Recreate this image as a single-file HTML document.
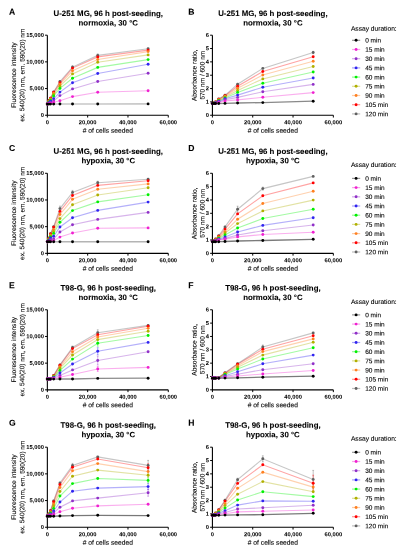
<!DOCTYPE html>
<html><head><meta charset="utf-8"><style>
html,body{margin:0;padding:0;background:#fff;width:407px;height:550px;overflow:hidden}
svg{display:block;will-change:transform}
text{font-family:"Liberation Sans", sans-serif;fill:#000;text-rendering:geometricPrecision}
.b{stroke:#000;stroke-width:0.08px}
.r{stroke:#000;stroke-width:0.1px}
</style></head><body>
<svg width="407" height="550" viewBox="0 0 407 550">
<rect width="407" height="550" fill="#fff"/>
<text class="b" transform="translate(9.00 14.80) rotate(0.05)" font-size="8.6" font-weight="bold" text-anchor="start" >A</text>
<text class="b" transform="translate(108.27 16.10) rotate(0.05)" font-size="7.85" font-weight="bold" text-anchor="middle" >U-251 MG, 96 h post-seeding,</text>
<text class="b" transform="translate(108.27 25.50) rotate(0.05)" font-size="7.85" font-weight="bold" text-anchor="middle" >normoxia, 30 °C</text>
<path d="M47.35 35.19V115.24H168.28" fill="none" stroke="#000" stroke-width="1.1"/>
<text class="b" transform="translate(43.95 117.04) rotate(0.05)" font-size="5.75" font-weight="bold" text-anchor="end" style="stroke-width:0.02px">0</text>
<text class="b" transform="translate(43.95 90.36) rotate(0.05)" font-size="5.75" font-weight="bold" text-anchor="end" style="stroke-width:0.02px">5,000</text>
<text class="b" transform="translate(43.95 63.67) rotate(0.05)" font-size="5.75" font-weight="bold" text-anchor="end" style="stroke-width:0.02px">10,000</text>
<text class="b" transform="translate(43.95 36.99) rotate(0.05)" font-size="5.75" font-weight="bold" text-anchor="end" style="stroke-width:0.02px">15,000</text>
<text class="b" transform="translate(47.35 124.24) rotate(0.05)" font-size="5.75" font-weight="bold" text-anchor="middle" style="stroke-width:0.02px">0</text>
<text class="b" transform="translate(87.66 124.24) rotate(0.05)" font-size="5.75" font-weight="bold" text-anchor="middle" style="stroke-width:0.02px">20,000</text>
<text class="b" transform="translate(127.97 124.24) rotate(0.05)" font-size="5.75" font-weight="bold" text-anchor="middle" style="stroke-width:0.02px">40,000</text>
<text class="b" transform="translate(168.28 124.24) rotate(0.05)" font-size="5.75" font-weight="bold" text-anchor="middle" style="stroke-width:0.02px">60,000</text>
<path d="M45.05 115.24H47.35 M45.05 88.56H47.35 M45.05 61.87H47.35 M45.05 35.19H47.35 M47.35 115.24V117.54 M87.66 115.24V117.54 M127.97 115.24V117.54 M168.28 115.24V117.54" stroke="#000" stroke-width="1"/>
<text class="r" transform="translate(107.81 132.74) rotate(0.05)" font-size="6.7" font-weight="normal" text-anchor="middle" ># of cells seeded</text>
<text class="r" transform="translate(16.00 75.22) rotate(-89.9)" font-size="6.6" text-anchor="middle">Fluorescence intensity</text>
<text class="r" transform="translate(24.40 75.22) rotate(-89.9)" font-size="6.5" text-anchor="middle">ex. 540(20) nm, em. 590(20) nm</text>
<polyline points="47.35,104.10 48.92,104.10 50.50,104.10 53.65,104.10 59.95,104.00 72.54,104.00 97.74,104.00 148.12,103.90" fill="none" stroke="#c8c8c8" stroke-width="1.7"/>
<polyline points="47.35,104.00 48.92,103.60 50.50,103.30 53.65,102.30 59.95,100.70 72.54,96.60 97.74,92.30 148.12,90.80" fill="none" stroke="#f020d0" stroke-width="1.1" stroke-opacity="0.36"/>
<polyline points="47.35,104.00 48.92,103.20 50.50,102.50 53.65,101.00 59.95,95.60 72.54,88.90 97.74,81.50 148.12,73.20" fill="none" stroke="#9030c8" stroke-width="1.1" stroke-opacity="0.36"/>
<polyline points="47.35,104.00 48.92,102.70 50.50,101.30 53.65,98.80 59.95,92.10 72.54,82.80 97.74,73.50 148.12,64.30" fill="none" stroke="#3024f0" stroke-width="1.1" stroke-opacity="0.36"/>
<polyline points="47.35,104.00 48.92,102.20 50.50,100.50 53.65,96.00 59.95,88.40 72.54,78.20 97.74,67.40 148.12,59.60" fill="none" stroke="#00f000" stroke-width="1.1" stroke-opacity="0.36"/>
<polyline points="47.35,104.00 48.92,101.70 50.50,99.50 53.65,94.40 59.95,86.20 72.54,73.90 97.74,62.20 148.12,54.90" fill="none" stroke="#b0b000" stroke-width="1.1" stroke-opacity="0.36"/>
<polyline points="47.35,104.00 48.92,101.20 50.50,99.00 53.65,93.30 59.95,84.30 72.54,70.80 97.74,59.50 148.12,51.60" fill="none" stroke="#ff8020" stroke-width="1.1" stroke-opacity="0.36"/>
<polyline points="47.35,104.00 48.92,100.80 50.50,98.30 53.65,92.30 59.95,82.80 72.54,68.10 97.74,56.90 148.12,50.10" fill="none" stroke="#ff0000" stroke-width="1.1" stroke-opacity="0.36"/>
<polyline points="47.35,104.00 48.92,100.50 50.50,98.20 53.65,92.00 59.95,81.50 72.54,67.10 97.74,55.40 148.12,48.80" fill="none" stroke="#606060" stroke-width="1.1" stroke-opacity="0.36"/>
<path d="M72.54 65.60V68.60M71.64 65.60H73.44M71.64 68.60H73.44" stroke="#606060" stroke-width="0.7" stroke-opacity="0.55" fill="none"/>
<path d="M97.74 53.90V56.90M96.84 53.90H98.64M96.84 56.90H98.64" stroke="#606060" stroke-width="0.7" stroke-opacity="0.55" fill="none"/>
<circle cx="47.35" cy="104.00" r="1.45" fill="#606060"/>
<circle cx="48.92" cy="100.50" r="1.45" fill="#606060"/>
<circle cx="50.50" cy="98.20" r="1.45" fill="#606060"/>
<circle cx="53.65" cy="92.00" r="1.45" fill="#606060"/>
<circle cx="59.95" cy="81.50" r="1.45" fill="#606060"/>
<circle cx="72.54" cy="67.10" r="1.45" fill="#606060"/>
<circle cx="97.74" cy="55.40" r="1.45" fill="#606060"/>
<circle cx="148.12" cy="48.80" r="1.45" fill="#606060"/>
<circle cx="47.35" cy="104.00" r="1.45" fill="#ff0000"/>
<circle cx="48.92" cy="100.80" r="1.45" fill="#ff0000"/>
<circle cx="50.50" cy="98.30" r="1.45" fill="#ff0000"/>
<circle cx="53.65" cy="92.30" r="1.45" fill="#ff0000"/>
<circle cx="59.95" cy="82.80" r="1.45" fill="#ff0000"/>
<circle cx="72.54" cy="68.10" r="1.45" fill="#ff0000"/>
<circle cx="97.74" cy="56.90" r="1.45" fill="#ff0000"/>
<circle cx="148.12" cy="50.10" r="1.45" fill="#ff0000"/>
<circle cx="47.35" cy="104.00" r="1.45" fill="#ff8020"/>
<circle cx="48.92" cy="101.20" r="1.45" fill="#ff8020"/>
<circle cx="50.50" cy="99.00" r="1.45" fill="#ff8020"/>
<circle cx="53.65" cy="93.30" r="1.45" fill="#ff8020"/>
<circle cx="59.95" cy="84.30" r="1.45" fill="#ff8020"/>
<circle cx="72.54" cy="70.80" r="1.45" fill="#ff8020"/>
<circle cx="97.74" cy="59.50" r="1.45" fill="#ff8020"/>
<circle cx="148.12" cy="51.60" r="1.45" fill="#ff8020"/>
<circle cx="47.35" cy="104.00" r="1.45" fill="#b0b000"/>
<circle cx="48.92" cy="101.70" r="1.45" fill="#b0b000"/>
<circle cx="50.50" cy="99.50" r="1.45" fill="#b0b000"/>
<circle cx="53.65" cy="94.40" r="1.45" fill="#b0b000"/>
<circle cx="59.95" cy="86.20" r="1.45" fill="#b0b000"/>
<circle cx="72.54" cy="73.90" r="1.45" fill="#b0b000"/>
<circle cx="97.74" cy="62.20" r="1.45" fill="#b0b000"/>
<circle cx="148.12" cy="54.90" r="1.45" fill="#b0b000"/>
<circle cx="47.35" cy="104.00" r="1.45" fill="#00f000"/>
<circle cx="48.92" cy="102.20" r="1.45" fill="#00f000"/>
<circle cx="50.50" cy="100.50" r="1.45" fill="#00f000"/>
<circle cx="53.65" cy="96.00" r="1.45" fill="#00f000"/>
<circle cx="59.95" cy="88.40" r="1.45" fill="#00f000"/>
<circle cx="72.54" cy="78.20" r="1.45" fill="#00f000"/>
<circle cx="97.74" cy="67.40" r="1.45" fill="#00f000"/>
<circle cx="148.12" cy="59.60" r="1.45" fill="#00f000"/>
<circle cx="47.35" cy="104.00" r="1.45" fill="#3024f0"/>
<circle cx="48.92" cy="102.70" r="1.45" fill="#3024f0"/>
<circle cx="50.50" cy="101.30" r="1.45" fill="#3024f0"/>
<circle cx="53.65" cy="98.80" r="1.45" fill="#3024f0"/>
<circle cx="59.95" cy="92.10" r="1.45" fill="#3024f0"/>
<circle cx="72.54" cy="82.80" r="1.45" fill="#3024f0"/>
<circle cx="97.74" cy="73.50" r="1.45" fill="#3024f0"/>
<circle cx="148.12" cy="64.30" r="1.45" fill="#3024f0"/>
<circle cx="47.35" cy="104.00" r="1.45" fill="#9030c8"/>
<circle cx="48.92" cy="103.20" r="1.45" fill="#9030c8"/>
<circle cx="50.50" cy="102.50" r="1.45" fill="#9030c8"/>
<circle cx="53.65" cy="101.00" r="1.45" fill="#9030c8"/>
<circle cx="59.95" cy="95.60" r="1.45" fill="#9030c8"/>
<circle cx="72.54" cy="88.90" r="1.45" fill="#9030c8"/>
<circle cx="97.74" cy="81.50" r="1.45" fill="#9030c8"/>
<circle cx="148.12" cy="73.20" r="1.45" fill="#9030c8"/>
<circle cx="47.35" cy="104.00" r="1.45" fill="#f020d0"/>
<circle cx="48.92" cy="103.60" r="1.45" fill="#f020d0"/>
<circle cx="50.50" cy="103.30" r="1.45" fill="#f020d0"/>
<circle cx="53.65" cy="102.30" r="1.45" fill="#f020d0"/>
<circle cx="59.95" cy="100.70" r="1.45" fill="#f020d0"/>
<circle cx="72.54" cy="96.60" r="1.45" fill="#f020d0"/>
<circle cx="97.74" cy="92.30" r="1.45" fill="#f020d0"/>
<circle cx="148.12" cy="90.80" r="1.45" fill="#f020d0"/>
<circle cx="47.35" cy="104.10" r="1.45" fill="#000000"/>
<circle cx="48.92" cy="104.10" r="1.45" fill="#000000"/>
<circle cx="50.50" cy="104.10" r="1.45" fill="#000000"/>
<circle cx="53.65" cy="104.10" r="1.45" fill="#000000"/>
<circle cx="59.95" cy="104.00" r="1.45" fill="#000000"/>
<circle cx="72.54" cy="104.00" r="1.45" fill="#000000"/>
<circle cx="97.74" cy="104.00" r="1.45" fill="#000000"/>
<circle cx="148.12" cy="103.90" r="1.45" fill="#000000"/>
<text class="b" transform="translate(188.30 14.80) rotate(0.05)" font-size="8.6" font-weight="bold" text-anchor="start" >B</text>
<text class="b" transform="translate(272.88 16.10) rotate(0.05)" font-size="7.85" font-weight="bold" text-anchor="middle" >U-251 MG, 96 h post-seeding,</text>
<text class="b" transform="translate(272.88 25.50) rotate(0.05)" font-size="7.85" font-weight="bold" text-anchor="middle" >normoxia, 30 °C</text>
<path d="M212.42 35.19V115.24H333.35" fill="none" stroke="#000" stroke-width="1.1"/>
<text class="b" transform="translate(209.02 117.04) rotate(0.05)" font-size="5.75" font-weight="bold" text-anchor="end" style="stroke-width:0.02px">0</text>
<text class="b" transform="translate(209.02 103.70) rotate(0.05)" font-size="5.75" font-weight="bold" text-anchor="end" style="stroke-width:0.02px">1</text>
<text class="b" transform="translate(209.02 90.36) rotate(0.05)" font-size="5.75" font-weight="bold" text-anchor="end" style="stroke-width:0.02px">2</text>
<text class="b" transform="translate(209.02 77.02) rotate(0.05)" font-size="5.75" font-weight="bold" text-anchor="end" style="stroke-width:0.02px">3</text>
<text class="b" transform="translate(209.02 63.67) rotate(0.05)" font-size="5.75" font-weight="bold" text-anchor="end" style="stroke-width:0.02px">4</text>
<text class="b" transform="translate(209.02 50.33) rotate(0.05)" font-size="5.75" font-weight="bold" text-anchor="end" style="stroke-width:0.02px">5</text>
<text class="b" transform="translate(209.02 36.99) rotate(0.05)" font-size="5.75" font-weight="bold" text-anchor="end" style="stroke-width:0.02px">6</text>
<text class="b" transform="translate(212.42 124.24) rotate(0.05)" font-size="5.75" font-weight="bold" text-anchor="middle" style="stroke-width:0.02px">0</text>
<text class="b" transform="translate(252.73 124.24) rotate(0.05)" font-size="5.75" font-weight="bold" text-anchor="middle" style="stroke-width:0.02px">20,000</text>
<text class="b" transform="translate(293.04 124.24) rotate(0.05)" font-size="5.75" font-weight="bold" text-anchor="middle" style="stroke-width:0.02px">40,000</text>
<text class="b" transform="translate(333.35 124.24) rotate(0.05)" font-size="5.75" font-weight="bold" text-anchor="middle" style="stroke-width:0.02px">60,000</text>
<path d="M210.12 115.24H212.42 M210.12 101.90H212.42 M210.12 88.56H212.42 M210.12 75.22H212.42 M210.12 61.87H212.42 M210.12 48.53H212.42 M210.12 35.19H212.42 M212.42 115.24V117.54 M252.73 115.24V117.54 M293.04 115.24V117.54 M333.35 115.24V117.54" stroke="#000" stroke-width="1"/>
<text class="r" transform="translate(272.88 132.74) rotate(0.05)" font-size="6.7" font-weight="normal" text-anchor="middle" ># of cells seeded</text>
<text class="r" transform="translate(196.60 75.22) rotate(-89.9)" font-size="6.6" text-anchor="middle">Absorbance ratio,</text>
<text class="r" transform="translate(204.60 75.22) rotate(-89.9)" font-size="6.5" text-anchor="middle">570 nm / 600 nm</text>
<polyline points="212.42,103.50 213.99,103.50 215.57,103.50 218.72,103.50 225.02,103.40 237.61,103.00 262.81,102.60 313.19,101.20" fill="none" stroke="#8a8a8a" stroke-width="1.3"/>
<polyline points="212.42,103.40 213.99,103.40 215.57,103.20 218.72,102.40 225.02,100.90 237.61,99.90 262.81,97.30 313.19,92.60" fill="none" stroke="#f020d0" stroke-width="1.1" stroke-opacity="0.36"/>
<polyline points="212.42,103.40 213.99,103.40 215.57,103.00 218.72,101.80 225.02,99.80 237.61,97.40 262.81,91.70 313.19,84.40" fill="none" stroke="#9030c8" stroke-width="1.1" stroke-opacity="0.36"/>
<polyline points="212.42,103.40 213.99,103.30 215.57,102.80 218.72,101.20 225.02,98.80 237.61,95.10 262.81,87.30 313.19,78.00" fill="none" stroke="#3024f0" stroke-width="1.1" stroke-opacity="0.36"/>
<polyline points="212.42,103.40 213.99,103.20 215.57,102.60 218.72,100.70 225.02,97.90 237.61,92.40 262.81,83.20 313.19,72.00" fill="none" stroke="#00f000" stroke-width="1.1" stroke-opacity="0.36"/>
<polyline points="212.42,103.40 213.99,103.10 215.57,102.40 218.72,100.10 225.02,96.90 237.61,90.40 262.81,78.90 313.19,66.50" fill="none" stroke="#b0b000" stroke-width="1.1" stroke-opacity="0.36"/>
<polyline points="212.42,103.40 213.99,103.00 215.57,102.20 218.72,99.70 225.02,96.30 237.61,88.20 262.81,75.00 313.19,61.30" fill="none" stroke="#ff8020" stroke-width="1.1" stroke-opacity="0.36"/>
<polyline points="212.42,103.40 213.99,102.90 215.57,102.00 218.72,99.20 225.02,95.60 237.61,86.30 262.81,71.50 313.19,56.80" fill="none" stroke="#ff0000" stroke-width="1.1" stroke-opacity="0.36"/>
<polyline points="212.42,103.40 213.99,102.80 215.57,101.90 218.72,99.00 225.02,95.30 237.61,84.20 262.81,68.40 313.19,52.50" fill="none" stroke="#606060" stroke-width="1.1" stroke-opacity="0.36"/>
<path d="M313.19 51.30V53.70M312.30 51.30H314.09M312.30 53.70H314.09" stroke="#606060" stroke-width="0.7" stroke-opacity="0.55" fill="none"/>
<circle cx="212.42" cy="103.40" r="1.45" fill="#606060"/>
<circle cx="213.99" cy="102.80" r="1.45" fill="#606060"/>
<circle cx="215.57" cy="101.90" r="1.45" fill="#606060"/>
<circle cx="218.72" cy="99.00" r="1.45" fill="#606060"/>
<circle cx="225.02" cy="95.30" r="1.45" fill="#606060"/>
<circle cx="237.61" cy="84.20" r="1.45" fill="#606060"/>
<circle cx="262.81" cy="68.40" r="1.45" fill="#606060"/>
<circle cx="313.19" cy="52.50" r="1.45" fill="#606060"/>
<circle cx="212.42" cy="103.40" r="1.45" fill="#ff0000"/>
<circle cx="213.99" cy="102.90" r="1.45" fill="#ff0000"/>
<circle cx="215.57" cy="102.00" r="1.45" fill="#ff0000"/>
<circle cx="218.72" cy="99.20" r="1.45" fill="#ff0000"/>
<circle cx="225.02" cy="95.60" r="1.45" fill="#ff0000"/>
<circle cx="237.61" cy="86.30" r="1.45" fill="#ff0000"/>
<circle cx="262.81" cy="71.50" r="1.45" fill="#ff0000"/>
<circle cx="313.19" cy="56.80" r="1.45" fill="#ff0000"/>
<circle cx="212.42" cy="103.40" r="1.45" fill="#ff8020"/>
<circle cx="213.99" cy="103.00" r="1.45" fill="#ff8020"/>
<circle cx="215.57" cy="102.20" r="1.45" fill="#ff8020"/>
<circle cx="218.72" cy="99.70" r="1.45" fill="#ff8020"/>
<circle cx="225.02" cy="96.30" r="1.45" fill="#ff8020"/>
<circle cx="237.61" cy="88.20" r="1.45" fill="#ff8020"/>
<circle cx="262.81" cy="75.00" r="1.45" fill="#ff8020"/>
<circle cx="313.19" cy="61.30" r="1.45" fill="#ff8020"/>
<circle cx="212.42" cy="103.40" r="1.45" fill="#b0b000"/>
<circle cx="213.99" cy="103.10" r="1.45" fill="#b0b000"/>
<circle cx="215.57" cy="102.40" r="1.45" fill="#b0b000"/>
<circle cx="218.72" cy="100.10" r="1.45" fill="#b0b000"/>
<circle cx="225.02" cy="96.90" r="1.45" fill="#b0b000"/>
<circle cx="237.61" cy="90.40" r="1.45" fill="#b0b000"/>
<circle cx="262.81" cy="78.90" r="1.45" fill="#b0b000"/>
<circle cx="313.19" cy="66.50" r="1.45" fill="#b0b000"/>
<circle cx="212.42" cy="103.40" r="1.45" fill="#00f000"/>
<circle cx="213.99" cy="103.20" r="1.45" fill="#00f000"/>
<circle cx="215.57" cy="102.60" r="1.45" fill="#00f000"/>
<circle cx="218.72" cy="100.70" r="1.45" fill="#00f000"/>
<circle cx="225.02" cy="97.90" r="1.45" fill="#00f000"/>
<circle cx="237.61" cy="92.40" r="1.45" fill="#00f000"/>
<circle cx="262.81" cy="83.20" r="1.45" fill="#00f000"/>
<circle cx="313.19" cy="72.00" r="1.45" fill="#00f000"/>
<circle cx="212.42" cy="103.40" r="1.45" fill="#3024f0"/>
<circle cx="213.99" cy="103.30" r="1.45" fill="#3024f0"/>
<circle cx="215.57" cy="102.80" r="1.45" fill="#3024f0"/>
<circle cx="218.72" cy="101.20" r="1.45" fill="#3024f0"/>
<circle cx="225.02" cy="98.80" r="1.45" fill="#3024f0"/>
<circle cx="237.61" cy="95.10" r="1.45" fill="#3024f0"/>
<circle cx="262.81" cy="87.30" r="1.45" fill="#3024f0"/>
<circle cx="313.19" cy="78.00" r="1.45" fill="#3024f0"/>
<circle cx="212.42" cy="103.40" r="1.45" fill="#9030c8"/>
<circle cx="213.99" cy="103.40" r="1.45" fill="#9030c8"/>
<circle cx="215.57" cy="103.00" r="1.45" fill="#9030c8"/>
<circle cx="218.72" cy="101.80" r="1.45" fill="#9030c8"/>
<circle cx="225.02" cy="99.80" r="1.45" fill="#9030c8"/>
<circle cx="237.61" cy="97.40" r="1.45" fill="#9030c8"/>
<circle cx="262.81" cy="91.70" r="1.45" fill="#9030c8"/>
<circle cx="313.19" cy="84.40" r="1.45" fill="#9030c8"/>
<circle cx="212.42" cy="103.40" r="1.45" fill="#f020d0"/>
<circle cx="213.99" cy="103.40" r="1.45" fill="#f020d0"/>
<circle cx="215.57" cy="103.20" r="1.45" fill="#f020d0"/>
<circle cx="218.72" cy="102.40" r="1.45" fill="#f020d0"/>
<circle cx="225.02" cy="100.90" r="1.45" fill="#f020d0"/>
<circle cx="237.61" cy="99.90" r="1.45" fill="#f020d0"/>
<circle cx="262.81" cy="97.30" r="1.45" fill="#f020d0"/>
<circle cx="313.19" cy="92.60" r="1.45" fill="#f020d0"/>
<circle cx="212.42" cy="103.50" r="1.45" fill="#000000"/>
<circle cx="213.99" cy="103.50" r="1.45" fill="#000000"/>
<circle cx="215.57" cy="103.50" r="1.45" fill="#000000"/>
<circle cx="218.72" cy="103.50" r="1.45" fill="#000000"/>
<circle cx="225.02" cy="103.40" r="1.45" fill="#000000"/>
<circle cx="237.61" cy="103.00" r="1.45" fill="#000000"/>
<circle cx="262.81" cy="102.60" r="1.45" fill="#000000"/>
<circle cx="313.19" cy="101.20" r="1.45" fill="#000000"/>
<text class="r" transform="translate(350.90 30.80) rotate(0.05)" font-size="6.65" font-weight="normal" text-anchor="start" >Assay duration:</text>
<path d="M352.0 40.30H360.2" stroke="#000000" stroke-width="1.2" stroke-opacity="0.4"/>
<circle cx="356.1" cy="40.30" r="1.45" fill="#000000"/>
<text class="r" transform="translate(365.20 42.60) rotate(0.05)" font-size="6.5" font-weight="normal" text-anchor="start" >0 min</text>
<path d="M352.0 49.50H360.2" stroke="#f020d0" stroke-width="1.2" stroke-opacity="0.4"/>
<circle cx="356.1" cy="49.50" r="1.45" fill="#f020d0"/>
<text class="r" transform="translate(365.20 51.80) rotate(0.05)" font-size="6.5" font-weight="normal" text-anchor="start" >15 min</text>
<path d="M352.0 58.70H360.2" stroke="#9030c8" stroke-width="1.2" stroke-opacity="0.4"/>
<circle cx="356.1" cy="58.70" r="1.45" fill="#9030c8"/>
<text class="r" transform="translate(365.20 61.00) rotate(0.05)" font-size="6.5" font-weight="normal" text-anchor="start" >30 min</text>
<path d="M352.0 67.90H360.2" stroke="#3024f0" stroke-width="1.2" stroke-opacity="0.4"/>
<circle cx="356.1" cy="67.90" r="1.45" fill="#3024f0"/>
<text class="r" transform="translate(365.20 70.20) rotate(0.05)" font-size="6.5" font-weight="normal" text-anchor="start" >45 min</text>
<path d="M352.0 77.10H360.2" stroke="#00f000" stroke-width="1.2" stroke-opacity="0.4"/>
<circle cx="356.1" cy="77.10" r="1.45" fill="#00f000"/>
<text class="r" transform="translate(365.20 79.40) rotate(0.05)" font-size="6.5" font-weight="normal" text-anchor="start" >60 min</text>
<path d="M352.0 86.30H360.2" stroke="#b0b000" stroke-width="1.2" stroke-opacity="0.4"/>
<circle cx="356.1" cy="86.30" r="1.45" fill="#b0b000"/>
<text class="r" transform="translate(365.20 88.60) rotate(0.05)" font-size="6.5" font-weight="normal" text-anchor="start" >75 min</text>
<path d="M352.0 95.50H360.2" stroke="#ff8020" stroke-width="1.2" stroke-opacity="0.4"/>
<circle cx="356.1" cy="95.50" r="1.45" fill="#ff8020"/>
<text class="r" transform="translate(365.20 97.80) rotate(0.05)" font-size="6.5" font-weight="normal" text-anchor="start" >90 min</text>
<path d="M352.0 104.70H360.2" stroke="#ff0000" stroke-width="1.2" stroke-opacity="0.4"/>
<circle cx="356.1" cy="104.70" r="1.45" fill="#ff0000"/>
<text class="r" transform="translate(365.20 107.00) rotate(0.05)" font-size="6.5" font-weight="normal" text-anchor="start" >105 min</text>
<path d="M352.0 113.90H360.2" stroke="#606060" stroke-width="1.2" stroke-opacity="0.4"/>
<circle cx="356.1" cy="113.90" r="1.45" fill="#606060"/>
<text class="r" transform="translate(365.20 116.20) rotate(0.05)" font-size="6.5" font-weight="normal" text-anchor="start" >120 min</text>
<text class="b" transform="translate(9.00 151.05) rotate(0.05)" font-size="8.6" font-weight="bold" text-anchor="start" >C</text>
<text class="b" transform="translate(108.27 153.90) rotate(0.05)" font-size="7.85" font-weight="bold" text-anchor="middle" >U-251 MG, 96 h post-seeding,</text>
<text class="b" transform="translate(108.27 163.30) rotate(0.05)" font-size="7.85" font-weight="bold" text-anchor="middle" >hypoxia, 30 °C</text>
<path d="M47.35 173.29V253.34H168.28" fill="none" stroke="#000" stroke-width="1.1"/>
<text class="b" transform="translate(43.95 255.14) rotate(0.05)" font-size="5.75" font-weight="bold" text-anchor="end" style="stroke-width:0.02px">0</text>
<text class="b" transform="translate(43.95 228.46) rotate(0.05)" font-size="5.75" font-weight="bold" text-anchor="end" style="stroke-width:0.02px">5,000</text>
<text class="b" transform="translate(43.95 201.77) rotate(0.05)" font-size="5.75" font-weight="bold" text-anchor="end" style="stroke-width:0.02px">10,000</text>
<text class="b" transform="translate(43.95 175.09) rotate(0.05)" font-size="5.75" font-weight="bold" text-anchor="end" style="stroke-width:0.02px">15,000</text>
<text class="b" transform="translate(47.35 262.34) rotate(0.05)" font-size="5.75" font-weight="bold" text-anchor="middle" style="stroke-width:0.02px">0</text>
<text class="b" transform="translate(87.66 262.34) rotate(0.05)" font-size="5.75" font-weight="bold" text-anchor="middle" style="stroke-width:0.02px">20,000</text>
<text class="b" transform="translate(127.97 262.34) rotate(0.05)" font-size="5.75" font-weight="bold" text-anchor="middle" style="stroke-width:0.02px">40,000</text>
<text class="b" transform="translate(168.28 262.34) rotate(0.05)" font-size="5.75" font-weight="bold" text-anchor="middle" style="stroke-width:0.02px">60,000</text>
<path d="M45.05 253.34H47.35 M45.05 226.66H47.35 M45.05 199.97H47.35 M45.05 173.29H47.35 M47.35 253.34V255.64 M87.66 253.34V255.64 M127.97 253.34V255.64 M168.28 253.34V255.64" stroke="#000" stroke-width="1"/>
<text class="r" transform="translate(107.81 270.84) rotate(0.05)" font-size="6.7" font-weight="normal" text-anchor="middle" ># of cells seeded</text>
<text class="r" transform="translate(16.00 213.31) rotate(-89.9)" font-size="6.6" text-anchor="middle">Fluorescence intensity</text>
<text class="r" transform="translate(24.40 213.31) rotate(-89.9)" font-size="6.5" text-anchor="middle">ex. 540(20) nm, em. 590(20) nm</text>
<polyline points="47.35,241.80 48.92,241.80 50.50,241.80 53.65,241.80 59.95,241.80 72.54,241.80 97.74,241.80 148.12,241.80" fill="none" stroke="#b4b4b4" stroke-width="1.6"/>
<polyline points="47.35,241.80 48.92,241.50 50.50,241.10 53.65,240.70 59.95,237.10 72.54,233.00 97.74,228.30 148.12,227.90" fill="none" stroke="#f020d0" stroke-width="1.1" stroke-opacity="0.36"/>
<polyline points="47.35,241.80 48.92,241.20 50.50,239.80 53.65,238.90 59.95,232.00 72.54,224.80 97.74,219.40 148.12,212.40" fill="none" stroke="#9030c8" stroke-width="1.1" stroke-opacity="0.36"/>
<polyline points="47.35,241.80 48.92,240.50 50.50,238.00 53.65,236.30 59.95,227.00 72.54,217.80 97.74,210.40 148.12,202.10" fill="none" stroke="#3024f0" stroke-width="1.1" stroke-opacity="0.36"/>
<polyline points="47.35,241.80 48.92,240.00 50.50,237.00 53.65,233.40 59.95,222.30 72.54,210.60 97.74,201.90 148.12,194.70" fill="none" stroke="#00f000" stroke-width="1.1" stroke-opacity="0.36"/>
<polyline points="47.35,241.80 48.92,239.50 50.50,236.00 53.65,231.60 59.95,218.60 72.54,204.70 97.74,195.00 148.12,187.70" fill="none" stroke="#b0b000" stroke-width="1.1" stroke-opacity="0.36"/>
<polyline points="47.35,241.80 48.92,239.00 50.50,235.00 53.65,229.60 59.95,214.50 72.54,199.30 97.74,189.30 148.12,183.90" fill="none" stroke="#ff8020" stroke-width="1.1" stroke-opacity="0.36"/>
<polyline points="47.35,241.80 48.92,238.50 50.50,234.00 53.65,227.10 59.95,211.40 72.54,195.50 97.74,185.40 148.12,180.80" fill="none" stroke="#ff0000" stroke-width="1.1" stroke-opacity="0.36"/>
<polyline points="47.35,241.80 48.92,238.00 50.50,233.80 53.65,226.80 59.95,208.60 72.54,192.40 97.74,182.70 148.12,179.30" fill="none" stroke="#606060" stroke-width="1.1" stroke-opacity="0.36"/>
<path d="M59.95 206.10V211.10M59.05 206.10H60.85M59.05 211.10H60.85" stroke="#606060" stroke-width="0.7" stroke-opacity="0.55" fill="none"/>
<path d="M72.54 190.40V194.40M71.64 190.40H73.44M71.64 194.40H73.44" stroke="#606060" stroke-width="0.7" stroke-opacity="0.55" fill="none"/>
<path d="M97.74 181.20V184.20M96.84 181.20H98.64M96.84 184.20H98.64" stroke="#606060" stroke-width="0.7" stroke-opacity="0.55" fill="none"/>
<circle cx="47.35" cy="241.80" r="1.45" fill="#606060"/>
<circle cx="48.92" cy="238.00" r="1.45" fill="#606060"/>
<circle cx="50.50" cy="233.80" r="1.45" fill="#606060"/>
<circle cx="53.65" cy="226.80" r="1.45" fill="#606060"/>
<circle cx="59.95" cy="208.60" r="1.45" fill="#606060"/>
<circle cx="72.54" cy="192.40" r="1.45" fill="#606060"/>
<circle cx="97.74" cy="182.70" r="1.45" fill="#606060"/>
<circle cx="148.12" cy="179.30" r="1.45" fill="#606060"/>
<circle cx="47.35" cy="241.80" r="1.45" fill="#ff0000"/>
<circle cx="48.92" cy="238.50" r="1.45" fill="#ff0000"/>
<circle cx="50.50" cy="234.00" r="1.45" fill="#ff0000"/>
<circle cx="53.65" cy="227.10" r="1.45" fill="#ff0000"/>
<circle cx="59.95" cy="211.40" r="1.45" fill="#ff0000"/>
<circle cx="72.54" cy="195.50" r="1.45" fill="#ff0000"/>
<circle cx="97.74" cy="185.40" r="1.45" fill="#ff0000"/>
<circle cx="148.12" cy="180.80" r="1.45" fill="#ff0000"/>
<circle cx="47.35" cy="241.80" r="1.45" fill="#ff8020"/>
<circle cx="48.92" cy="239.00" r="1.45" fill="#ff8020"/>
<circle cx="50.50" cy="235.00" r="1.45" fill="#ff8020"/>
<circle cx="53.65" cy="229.60" r="1.45" fill="#ff8020"/>
<circle cx="59.95" cy="214.50" r="1.45" fill="#ff8020"/>
<circle cx="72.54" cy="199.30" r="1.45" fill="#ff8020"/>
<circle cx="97.74" cy="189.30" r="1.45" fill="#ff8020"/>
<circle cx="148.12" cy="183.90" r="1.45" fill="#ff8020"/>
<circle cx="47.35" cy="241.80" r="1.45" fill="#b0b000"/>
<circle cx="48.92" cy="239.50" r="1.45" fill="#b0b000"/>
<circle cx="50.50" cy="236.00" r="1.45" fill="#b0b000"/>
<circle cx="53.65" cy="231.60" r="1.45" fill="#b0b000"/>
<circle cx="59.95" cy="218.60" r="1.45" fill="#b0b000"/>
<circle cx="72.54" cy="204.70" r="1.45" fill="#b0b000"/>
<circle cx="97.74" cy="195.00" r="1.45" fill="#b0b000"/>
<circle cx="148.12" cy="187.70" r="1.45" fill="#b0b000"/>
<circle cx="47.35" cy="241.80" r="1.45" fill="#00f000"/>
<circle cx="48.92" cy="240.00" r="1.45" fill="#00f000"/>
<circle cx="50.50" cy="237.00" r="1.45" fill="#00f000"/>
<circle cx="53.65" cy="233.40" r="1.45" fill="#00f000"/>
<circle cx="59.95" cy="222.30" r="1.45" fill="#00f000"/>
<circle cx="72.54" cy="210.60" r="1.45" fill="#00f000"/>
<circle cx="97.74" cy="201.90" r="1.45" fill="#00f000"/>
<circle cx="148.12" cy="194.70" r="1.45" fill="#00f000"/>
<circle cx="47.35" cy="241.80" r="1.45" fill="#3024f0"/>
<circle cx="48.92" cy="240.50" r="1.45" fill="#3024f0"/>
<circle cx="50.50" cy="238.00" r="1.45" fill="#3024f0"/>
<circle cx="53.65" cy="236.30" r="1.45" fill="#3024f0"/>
<circle cx="59.95" cy="227.00" r="1.45" fill="#3024f0"/>
<circle cx="72.54" cy="217.80" r="1.45" fill="#3024f0"/>
<circle cx="97.74" cy="210.40" r="1.45" fill="#3024f0"/>
<circle cx="148.12" cy="202.10" r="1.45" fill="#3024f0"/>
<circle cx="47.35" cy="241.80" r="1.45" fill="#9030c8"/>
<circle cx="48.92" cy="241.20" r="1.45" fill="#9030c8"/>
<circle cx="50.50" cy="239.80" r="1.45" fill="#9030c8"/>
<circle cx="53.65" cy="238.90" r="1.45" fill="#9030c8"/>
<circle cx="59.95" cy="232.00" r="1.45" fill="#9030c8"/>
<circle cx="72.54" cy="224.80" r="1.45" fill="#9030c8"/>
<circle cx="97.74" cy="219.40" r="1.45" fill="#9030c8"/>
<circle cx="148.12" cy="212.40" r="1.45" fill="#9030c8"/>
<circle cx="47.35" cy="241.80" r="1.45" fill="#f020d0"/>
<circle cx="48.92" cy="241.50" r="1.45" fill="#f020d0"/>
<circle cx="50.50" cy="241.10" r="1.45" fill="#f020d0"/>
<circle cx="53.65" cy="240.70" r="1.45" fill="#f020d0"/>
<circle cx="59.95" cy="237.10" r="1.45" fill="#f020d0"/>
<circle cx="72.54" cy="233.00" r="1.45" fill="#f020d0"/>
<circle cx="97.74" cy="228.30" r="1.45" fill="#f020d0"/>
<circle cx="148.12" cy="227.90" r="1.45" fill="#f020d0"/>
<circle cx="47.35" cy="241.80" r="1.45" fill="#000000"/>
<circle cx="48.92" cy="241.80" r="1.45" fill="#000000"/>
<circle cx="50.50" cy="241.80" r="1.45" fill="#000000"/>
<circle cx="53.65" cy="241.80" r="1.45" fill="#000000"/>
<circle cx="59.95" cy="241.80" r="1.45" fill="#000000"/>
<circle cx="72.54" cy="241.80" r="1.45" fill="#000000"/>
<circle cx="97.74" cy="241.80" r="1.45" fill="#000000"/>
<circle cx="148.12" cy="241.80" r="1.45" fill="#000000"/>
<text class="b" transform="translate(188.30 151.05) rotate(0.05)" font-size="8.6" font-weight="bold" text-anchor="start" >D</text>
<text class="b" transform="translate(272.88 153.90) rotate(0.05)" font-size="7.85" font-weight="bold" text-anchor="middle" >U-251 MG, 96 h post-seeding,</text>
<text class="b" transform="translate(272.88 163.30) rotate(0.05)" font-size="7.85" font-weight="bold" text-anchor="middle" >hypoxia, 30 °C</text>
<path d="M212.42 173.29V253.34H333.35" fill="none" stroke="#000" stroke-width="1.1"/>
<text class="b" transform="translate(209.02 255.14) rotate(0.05)" font-size="5.75" font-weight="bold" text-anchor="end" style="stroke-width:0.02px">0</text>
<text class="b" transform="translate(209.02 241.80) rotate(0.05)" font-size="5.75" font-weight="bold" text-anchor="end" style="stroke-width:0.02px">1</text>
<text class="b" transform="translate(209.02 228.46) rotate(0.05)" font-size="5.75" font-weight="bold" text-anchor="end" style="stroke-width:0.02px">2</text>
<text class="b" transform="translate(209.02 215.12) rotate(0.05)" font-size="5.75" font-weight="bold" text-anchor="end" style="stroke-width:0.02px">3</text>
<text class="b" transform="translate(209.02 201.77) rotate(0.05)" font-size="5.75" font-weight="bold" text-anchor="end" style="stroke-width:0.02px">4</text>
<text class="b" transform="translate(209.02 188.43) rotate(0.05)" font-size="5.75" font-weight="bold" text-anchor="end" style="stroke-width:0.02px">5</text>
<text class="b" transform="translate(209.02 175.09) rotate(0.05)" font-size="5.75" font-weight="bold" text-anchor="end" style="stroke-width:0.02px">6</text>
<text class="b" transform="translate(212.42 262.34) rotate(0.05)" font-size="5.75" font-weight="bold" text-anchor="middle" style="stroke-width:0.02px">0</text>
<text class="b" transform="translate(252.73 262.34) rotate(0.05)" font-size="5.75" font-weight="bold" text-anchor="middle" style="stroke-width:0.02px">20,000</text>
<text class="b" transform="translate(293.04 262.34) rotate(0.05)" font-size="5.75" font-weight="bold" text-anchor="middle" style="stroke-width:0.02px">40,000</text>
<text class="b" transform="translate(333.35 262.34) rotate(0.05)" font-size="5.75" font-weight="bold" text-anchor="middle" style="stroke-width:0.02px">60,000</text>
<path d="M210.12 253.34H212.42 M210.12 240.00H212.42 M210.12 226.66H212.42 M210.12 213.31H212.42 M210.12 199.97H212.42 M210.12 186.63H212.42 M210.12 173.29H212.42 M212.42 253.34V255.64 M252.73 253.34V255.64 M293.04 253.34V255.64 M333.35 253.34V255.64" stroke="#000" stroke-width="1"/>
<text class="r" transform="translate(272.88 270.84) rotate(0.05)" font-size="6.7" font-weight="normal" text-anchor="middle" ># of cells seeded</text>
<text class="r" transform="translate(196.60 213.31) rotate(-89.9)" font-size="6.6" text-anchor="middle">Absorbance ratio,</text>
<text class="r" transform="translate(204.60 213.31) rotate(-89.9)" font-size="6.5" text-anchor="middle">570 nm / 600 nm</text>
<polyline points="212.42,241.80 213.99,241.80 215.57,241.80 218.72,241.70 225.02,241.50 237.61,241.00 262.81,240.50 313.19,239.30" fill="none" stroke="#7a7a7a" stroke-width="1.3"/>
<polyline points="212.42,241.50 213.99,241.30 215.57,241.00 218.72,240.00 225.02,239.10 237.61,236.90 262.81,234.50 313.19,232.30" fill="none" stroke="#f020d0" stroke-width="1.1" stroke-opacity="0.36"/>
<polyline points="212.42,241.50 213.99,241.20 215.57,240.80 218.72,239.60 225.02,238.40 237.61,235.00 262.81,230.70 313.19,225.00" fill="none" stroke="#9030c8" stroke-width="1.1" stroke-opacity="0.36"/>
<polyline points="212.42,241.50 213.99,241.10 215.57,240.50 218.72,239.00 225.02,236.90 237.61,232.00 262.81,225.40 313.19,217.80" fill="none" stroke="#3024f0" stroke-width="1.1" stroke-opacity="0.36"/>
<polyline points="212.42,241.50 213.99,241.00 215.57,240.20 218.72,238.30 225.02,235.00 237.61,228.00 262.81,218.50 313.19,209.20" fill="none" stroke="#00f000" stroke-width="1.1" stroke-opacity="0.36"/>
<polyline points="212.42,241.50 213.99,240.90 215.57,239.90 218.72,237.60 225.02,233.00 237.61,223.60 262.81,210.90 313.19,200.10" fill="none" stroke="#b0b000" stroke-width="1.1" stroke-opacity="0.36"/>
<polyline points="212.42,241.50 213.99,240.80 215.57,239.60 218.72,237.00 225.02,231.60 237.61,219.20 262.81,203.50 313.19,191.20" fill="none" stroke="#ff8020" stroke-width="1.1" stroke-opacity="0.36"/>
<polyline points="212.42,241.50 213.99,240.60 215.57,239.30 218.72,236.30 225.02,229.10 237.61,213.90 262.81,195.80 313.19,182.90" fill="none" stroke="#ff0000" stroke-width="1.1" stroke-opacity="0.36"/>
<polyline points="212.42,241.50 213.99,240.50 215.57,239.00 218.72,235.70 225.02,226.90 237.61,209.20 262.81,188.60 313.19,176.40" fill="none" stroke="#606060" stroke-width="1.1" stroke-opacity="0.36"/>
<path d="M237.61 206.20V212.20M236.71 206.20H238.51M236.71 212.20H238.51" stroke="#606060" stroke-width="0.7" stroke-opacity="0.55" fill="none"/>
<path d="M262.81 187.10V190.10M261.91 187.10H263.71M261.91 190.10H263.71" stroke="#606060" stroke-width="0.7" stroke-opacity="0.55" fill="none"/>
<circle cx="212.42" cy="241.50" r="1.45" fill="#606060"/>
<circle cx="213.99" cy="240.50" r="1.45" fill="#606060"/>
<circle cx="215.57" cy="239.00" r="1.45" fill="#606060"/>
<circle cx="218.72" cy="235.70" r="1.45" fill="#606060"/>
<circle cx="225.02" cy="226.90" r="1.45" fill="#606060"/>
<circle cx="237.61" cy="209.20" r="1.45" fill="#606060"/>
<circle cx="262.81" cy="188.60" r="1.45" fill="#606060"/>
<circle cx="313.19" cy="176.40" r="1.45" fill="#606060"/>
<circle cx="212.42" cy="241.50" r="1.45" fill="#ff0000"/>
<circle cx="213.99" cy="240.60" r="1.45" fill="#ff0000"/>
<circle cx="215.57" cy="239.30" r="1.45" fill="#ff0000"/>
<circle cx="218.72" cy="236.30" r="1.45" fill="#ff0000"/>
<circle cx="225.02" cy="229.10" r="1.45" fill="#ff0000"/>
<circle cx="237.61" cy="213.90" r="1.45" fill="#ff0000"/>
<circle cx="262.81" cy="195.80" r="1.45" fill="#ff0000"/>
<circle cx="313.19" cy="182.90" r="1.45" fill="#ff0000"/>
<circle cx="212.42" cy="241.50" r="1.45" fill="#ff8020"/>
<circle cx="213.99" cy="240.80" r="1.45" fill="#ff8020"/>
<circle cx="215.57" cy="239.60" r="1.45" fill="#ff8020"/>
<circle cx="218.72" cy="237.00" r="1.45" fill="#ff8020"/>
<circle cx="225.02" cy="231.60" r="1.45" fill="#ff8020"/>
<circle cx="237.61" cy="219.20" r="1.45" fill="#ff8020"/>
<circle cx="262.81" cy="203.50" r="1.45" fill="#ff8020"/>
<circle cx="313.19" cy="191.20" r="1.45" fill="#ff8020"/>
<circle cx="212.42" cy="241.50" r="1.45" fill="#b0b000"/>
<circle cx="213.99" cy="240.90" r="1.45" fill="#b0b000"/>
<circle cx="215.57" cy="239.90" r="1.45" fill="#b0b000"/>
<circle cx="218.72" cy="237.60" r="1.45" fill="#b0b000"/>
<circle cx="225.02" cy="233.00" r="1.45" fill="#b0b000"/>
<circle cx="237.61" cy="223.60" r="1.45" fill="#b0b000"/>
<circle cx="262.81" cy="210.90" r="1.45" fill="#b0b000"/>
<circle cx="313.19" cy="200.10" r="1.45" fill="#b0b000"/>
<circle cx="212.42" cy="241.50" r="1.45" fill="#00f000"/>
<circle cx="213.99" cy="241.00" r="1.45" fill="#00f000"/>
<circle cx="215.57" cy="240.20" r="1.45" fill="#00f000"/>
<circle cx="218.72" cy="238.30" r="1.45" fill="#00f000"/>
<circle cx="225.02" cy="235.00" r="1.45" fill="#00f000"/>
<circle cx="237.61" cy="228.00" r="1.45" fill="#00f000"/>
<circle cx="262.81" cy="218.50" r="1.45" fill="#00f000"/>
<circle cx="313.19" cy="209.20" r="1.45" fill="#00f000"/>
<circle cx="212.42" cy="241.50" r="1.45" fill="#3024f0"/>
<circle cx="213.99" cy="241.10" r="1.45" fill="#3024f0"/>
<circle cx="215.57" cy="240.50" r="1.45" fill="#3024f0"/>
<circle cx="218.72" cy="239.00" r="1.45" fill="#3024f0"/>
<circle cx="225.02" cy="236.90" r="1.45" fill="#3024f0"/>
<circle cx="237.61" cy="232.00" r="1.45" fill="#3024f0"/>
<circle cx="262.81" cy="225.40" r="1.45" fill="#3024f0"/>
<circle cx="313.19" cy="217.80" r="1.45" fill="#3024f0"/>
<circle cx="212.42" cy="241.50" r="1.45" fill="#9030c8"/>
<circle cx="213.99" cy="241.20" r="1.45" fill="#9030c8"/>
<circle cx="215.57" cy="240.80" r="1.45" fill="#9030c8"/>
<circle cx="218.72" cy="239.60" r="1.45" fill="#9030c8"/>
<circle cx="225.02" cy="238.40" r="1.45" fill="#9030c8"/>
<circle cx="237.61" cy="235.00" r="1.45" fill="#9030c8"/>
<circle cx="262.81" cy="230.70" r="1.45" fill="#9030c8"/>
<circle cx="313.19" cy="225.00" r="1.45" fill="#9030c8"/>
<circle cx="212.42" cy="241.50" r="1.45" fill="#f020d0"/>
<circle cx="213.99" cy="241.30" r="1.45" fill="#f020d0"/>
<circle cx="215.57" cy="241.00" r="1.45" fill="#f020d0"/>
<circle cx="218.72" cy="240.00" r="1.45" fill="#f020d0"/>
<circle cx="225.02" cy="239.10" r="1.45" fill="#f020d0"/>
<circle cx="237.61" cy="236.90" r="1.45" fill="#f020d0"/>
<circle cx="262.81" cy="234.50" r="1.45" fill="#f020d0"/>
<circle cx="313.19" cy="232.30" r="1.45" fill="#f020d0"/>
<circle cx="212.42" cy="241.80" r="1.45" fill="#000000"/>
<circle cx="213.99" cy="241.80" r="1.45" fill="#000000"/>
<circle cx="215.57" cy="241.80" r="1.45" fill="#000000"/>
<circle cx="218.72" cy="241.70" r="1.45" fill="#000000"/>
<circle cx="225.02" cy="241.50" r="1.45" fill="#000000"/>
<circle cx="237.61" cy="241.00" r="1.45" fill="#000000"/>
<circle cx="262.81" cy="240.50" r="1.45" fill="#000000"/>
<circle cx="313.19" cy="239.30" r="1.45" fill="#000000"/>
<text class="r" transform="translate(350.90 167.00) rotate(0.05)" font-size="6.65" font-weight="normal" text-anchor="start" >Assay duration:</text>
<path d="M352.0 178.40H360.2" stroke="#000000" stroke-width="1.2" stroke-opacity="0.4"/>
<circle cx="356.1" cy="178.40" r="1.45" fill="#000000"/>
<text class="r" transform="translate(365.20 180.70) rotate(0.05)" font-size="6.5" font-weight="normal" text-anchor="start" >0 min</text>
<path d="M352.0 187.60H360.2" stroke="#f020d0" stroke-width="1.2" stroke-opacity="0.4"/>
<circle cx="356.1" cy="187.60" r="1.45" fill="#f020d0"/>
<text class="r" transform="translate(365.20 189.90) rotate(0.05)" font-size="6.5" font-weight="normal" text-anchor="start" >15 min</text>
<path d="M352.0 196.80H360.2" stroke="#9030c8" stroke-width="1.2" stroke-opacity="0.4"/>
<circle cx="356.1" cy="196.80" r="1.45" fill="#9030c8"/>
<text class="r" transform="translate(365.20 199.10) rotate(0.05)" font-size="6.5" font-weight="normal" text-anchor="start" >30 min</text>
<path d="M352.0 206.00H360.2" stroke="#3024f0" stroke-width="1.2" stroke-opacity="0.4"/>
<circle cx="356.1" cy="206.00" r="1.45" fill="#3024f0"/>
<text class="r" transform="translate(365.20 208.30) rotate(0.05)" font-size="6.5" font-weight="normal" text-anchor="start" >45 min</text>
<path d="M352.0 215.20H360.2" stroke="#00f000" stroke-width="1.2" stroke-opacity="0.4"/>
<circle cx="356.1" cy="215.20" r="1.45" fill="#00f000"/>
<text class="r" transform="translate(365.20 217.50) rotate(0.05)" font-size="6.5" font-weight="normal" text-anchor="start" >60 min</text>
<path d="M352.0 224.40H360.2" stroke="#b0b000" stroke-width="1.2" stroke-opacity="0.4"/>
<circle cx="356.1" cy="224.40" r="1.45" fill="#b0b000"/>
<text class="r" transform="translate(365.20 226.70) rotate(0.05)" font-size="6.5" font-weight="normal" text-anchor="start" >75 min</text>
<path d="M352.0 233.60H360.2" stroke="#ff8020" stroke-width="1.2" stroke-opacity="0.4"/>
<circle cx="356.1" cy="233.60" r="1.45" fill="#ff8020"/>
<text class="r" transform="translate(365.20 235.90) rotate(0.05)" font-size="6.5" font-weight="normal" text-anchor="start" >90 min</text>
<path d="M352.0 242.80H360.2" stroke="#ff0000" stroke-width="1.2" stroke-opacity="0.4"/>
<circle cx="356.1" cy="242.80" r="1.45" fill="#ff0000"/>
<text class="r" transform="translate(365.20 245.10) rotate(0.05)" font-size="6.5" font-weight="normal" text-anchor="start" >105 min</text>
<path d="M352.0 252.00H360.2" stroke="#606060" stroke-width="1.2" stroke-opacity="0.4"/>
<circle cx="356.1" cy="252.00" r="1.45" fill="#606060"/>
<text class="r" transform="translate(365.20 254.30) rotate(0.05)" font-size="6.5" font-weight="normal" text-anchor="start" >120 min</text>
<text class="b" transform="translate(9.00 288.30) rotate(0.05)" font-size="8.6" font-weight="bold" text-anchor="start" >E</text>
<text class="b" transform="translate(108.27 290.60) rotate(0.05)" font-size="7.85" font-weight="bold" text-anchor="middle" >T98-G, 96 h post-seeding,</text>
<text class="b" transform="translate(108.27 300.00) rotate(0.05)" font-size="7.85" font-weight="bold" text-anchor="middle" >normoxia, 30 °C</text>
<path d="M47.35 309.78V389.83H168.28" fill="none" stroke="#000" stroke-width="1.1"/>
<text class="b" transform="translate(43.95 391.63) rotate(0.05)" font-size="5.75" font-weight="bold" text-anchor="end" style="stroke-width:0.02px">0</text>
<text class="b" transform="translate(43.95 364.95) rotate(0.05)" font-size="5.75" font-weight="bold" text-anchor="end" style="stroke-width:0.02px">5,000</text>
<text class="b" transform="translate(43.95 338.26) rotate(0.05)" font-size="5.75" font-weight="bold" text-anchor="end" style="stroke-width:0.02px">10,000</text>
<text class="b" transform="translate(43.95 311.58) rotate(0.05)" font-size="5.75" font-weight="bold" text-anchor="end" style="stroke-width:0.02px">15,000</text>
<text class="b" transform="translate(47.35 398.83) rotate(0.05)" font-size="5.75" font-weight="bold" text-anchor="middle" style="stroke-width:0.02px">0</text>
<text class="b" transform="translate(87.66 398.83) rotate(0.05)" font-size="5.75" font-weight="bold" text-anchor="middle" style="stroke-width:0.02px">20,000</text>
<text class="b" transform="translate(127.97 398.83) rotate(0.05)" font-size="5.75" font-weight="bold" text-anchor="middle" style="stroke-width:0.02px">40,000</text>
<text class="b" transform="translate(168.28 398.83) rotate(0.05)" font-size="5.75" font-weight="bold" text-anchor="middle" style="stroke-width:0.02px">60,000</text>
<path d="M45.05 389.83H47.35 M45.05 363.15H47.35 M45.05 336.46H47.35 M45.05 309.78H47.35 M47.35 389.83V392.13 M87.66 389.83V392.13 M127.97 389.83V392.13 M168.28 389.83V392.13" stroke="#000" stroke-width="1"/>
<text class="r" transform="translate(107.81 407.33) rotate(0.05)" font-size="6.7" font-weight="normal" text-anchor="middle" ># of cells seeded</text>
<text class="r" transform="translate(16.00 349.80) rotate(-89.9)" font-size="6.6" text-anchor="middle">Fluorescence intensity</text>
<text class="r" transform="translate(24.40 349.80) rotate(-89.9)" font-size="6.5" text-anchor="middle">ex. 540(20) nm, em. 590(20) nm</text>
<polyline points="47.35,379.10 48.92,379.10 50.50,379.10 53.65,379.10 59.95,379.00 72.54,379.00 97.74,378.40 148.12,378.20" fill="none" stroke="#8c8c8c" stroke-width="1.3"/>
<polyline points="47.35,379.00 48.92,379.00 50.50,379.00 53.65,378.50 59.95,377.20 72.54,374.50 97.74,369.00 148.12,367.40" fill="none" stroke="#f020d0" stroke-width="1.1" stroke-opacity="0.36"/>
<polyline points="47.35,379.00 48.92,379.00 50.50,379.00 53.65,378.00 59.95,375.50 72.54,369.90 97.74,360.50 148.12,351.70" fill="none" stroke="#9030c8" stroke-width="1.1" stroke-opacity="0.36"/>
<polyline points="47.35,379.00 48.92,379.00 50.50,379.00 53.65,377.50 59.95,373.00 72.54,364.00 97.74,351.20 148.12,342.40" fill="none" stroke="#3024f0" stroke-width="1.1" stroke-opacity="0.36"/>
<polyline points="47.35,379.00 48.92,379.00 50.50,379.00 53.65,377.00 59.95,370.50 72.54,359.10 97.74,343.20 148.12,335.50" fill="none" stroke="#00f000" stroke-width="1.1" stroke-opacity="0.36"/>
<polyline points="47.35,379.00 48.92,379.00 50.50,378.90 53.65,376.50 59.95,368.30 72.54,355.00 97.74,339.60 148.12,331.30" fill="none" stroke="#b0b000" stroke-width="1.1" stroke-opacity="0.36"/>
<polyline points="47.35,379.00 48.92,379.00 50.50,378.90 53.65,376.10 59.95,366.80 72.54,351.70 97.74,337.00 148.12,328.20" fill="none" stroke="#ff8020" stroke-width="1.1" stroke-opacity="0.36"/>
<polyline points="47.35,379.00 48.92,379.00 50.50,378.80 53.65,375.60 59.95,365.30 72.54,348.60 97.74,334.70 148.12,326.20" fill="none" stroke="#ff0000" stroke-width="1.1" stroke-opacity="0.36"/>
<polyline points="47.35,379.00 48.92,379.00 50.50,378.80 53.65,375.40 59.95,364.90 72.54,347.50 97.74,332.80 148.12,325.40" fill="none" stroke="#606060" stroke-width="1.1" stroke-opacity="0.36"/>
<path d="M97.74 329.80V335.80M96.84 329.80H98.64M96.84 335.80H98.64" stroke="#606060" stroke-width="0.7" stroke-opacity="0.55" fill="none"/>
<path d="M97.74 340.20V346.20M96.84 340.20H98.64M96.84 346.20H98.64" stroke="#00f000" stroke-width="0.7" stroke-opacity="0.55" fill="none"/>
<path d="M97.74 347.70V354.70M96.84 347.70H98.64M96.84 354.70H98.64" stroke="#3024f0" stroke-width="0.7" stroke-opacity="0.55" fill="none"/>
<path d="M97.74 356.00V365.00M96.84 356.00H98.64M96.84 365.00H98.64" stroke="#9030c8" stroke-width="0.7" stroke-opacity="0.55" fill="none"/>
<path d="M97.74 366.50V371.50M96.84 366.50H98.64M96.84 371.50H98.64" stroke="#f020d0" stroke-width="0.7" stroke-opacity="0.55" fill="none"/>
<path d="M72.54 346.00V349.00M71.64 346.00H73.44M71.64 349.00H73.44" stroke="#606060" stroke-width="0.7" stroke-opacity="0.55" fill="none"/>
<circle cx="47.35" cy="379.00" r="1.45" fill="#606060"/>
<circle cx="48.92" cy="379.00" r="1.45" fill="#606060"/>
<circle cx="50.50" cy="378.80" r="1.45" fill="#606060"/>
<circle cx="53.65" cy="375.40" r="1.45" fill="#606060"/>
<circle cx="59.95" cy="364.90" r="1.45" fill="#606060"/>
<circle cx="72.54" cy="347.50" r="1.45" fill="#606060"/>
<circle cx="97.74" cy="332.80" r="1.45" fill="#606060"/>
<circle cx="148.12" cy="325.40" r="1.45" fill="#606060"/>
<circle cx="47.35" cy="379.00" r="1.45" fill="#ff0000"/>
<circle cx="48.92" cy="379.00" r="1.45" fill="#ff0000"/>
<circle cx="50.50" cy="378.80" r="1.45" fill="#ff0000"/>
<circle cx="53.65" cy="375.60" r="1.45" fill="#ff0000"/>
<circle cx="59.95" cy="365.30" r="1.45" fill="#ff0000"/>
<circle cx="72.54" cy="348.60" r="1.45" fill="#ff0000"/>
<circle cx="97.74" cy="334.70" r="1.45" fill="#ff0000"/>
<circle cx="148.12" cy="326.20" r="1.45" fill="#ff0000"/>
<circle cx="47.35" cy="379.00" r="1.45" fill="#ff8020"/>
<circle cx="48.92" cy="379.00" r="1.45" fill="#ff8020"/>
<circle cx="50.50" cy="378.90" r="1.45" fill="#ff8020"/>
<circle cx="53.65" cy="376.10" r="1.45" fill="#ff8020"/>
<circle cx="59.95" cy="366.80" r="1.45" fill="#ff8020"/>
<circle cx="72.54" cy="351.70" r="1.45" fill="#ff8020"/>
<circle cx="97.74" cy="337.00" r="1.45" fill="#ff8020"/>
<circle cx="148.12" cy="328.20" r="1.45" fill="#ff8020"/>
<circle cx="47.35" cy="379.00" r="1.45" fill="#b0b000"/>
<circle cx="48.92" cy="379.00" r="1.45" fill="#b0b000"/>
<circle cx="50.50" cy="378.90" r="1.45" fill="#b0b000"/>
<circle cx="53.65" cy="376.50" r="1.45" fill="#b0b000"/>
<circle cx="59.95" cy="368.30" r="1.45" fill="#b0b000"/>
<circle cx="72.54" cy="355.00" r="1.45" fill="#b0b000"/>
<circle cx="97.74" cy="339.60" r="1.45" fill="#b0b000"/>
<circle cx="148.12" cy="331.30" r="1.45" fill="#b0b000"/>
<circle cx="47.35" cy="379.00" r="1.45" fill="#00f000"/>
<circle cx="48.92" cy="379.00" r="1.45" fill="#00f000"/>
<circle cx="50.50" cy="379.00" r="1.45" fill="#00f000"/>
<circle cx="53.65" cy="377.00" r="1.45" fill="#00f000"/>
<circle cx="59.95" cy="370.50" r="1.45" fill="#00f000"/>
<circle cx="72.54" cy="359.10" r="1.45" fill="#00f000"/>
<circle cx="97.74" cy="343.20" r="1.45" fill="#00f000"/>
<circle cx="148.12" cy="335.50" r="1.45" fill="#00f000"/>
<circle cx="47.35" cy="379.00" r="1.45" fill="#3024f0"/>
<circle cx="48.92" cy="379.00" r="1.45" fill="#3024f0"/>
<circle cx="50.50" cy="379.00" r="1.45" fill="#3024f0"/>
<circle cx="53.65" cy="377.50" r="1.45" fill="#3024f0"/>
<circle cx="59.95" cy="373.00" r="1.45" fill="#3024f0"/>
<circle cx="72.54" cy="364.00" r="1.45" fill="#3024f0"/>
<circle cx="97.74" cy="351.20" r="1.45" fill="#3024f0"/>
<circle cx="148.12" cy="342.40" r="1.45" fill="#3024f0"/>
<circle cx="47.35" cy="379.00" r="1.45" fill="#9030c8"/>
<circle cx="48.92" cy="379.00" r="1.45" fill="#9030c8"/>
<circle cx="50.50" cy="379.00" r="1.45" fill="#9030c8"/>
<circle cx="53.65" cy="378.00" r="1.45" fill="#9030c8"/>
<circle cx="59.95" cy="375.50" r="1.45" fill="#9030c8"/>
<circle cx="72.54" cy="369.90" r="1.45" fill="#9030c8"/>
<circle cx="97.74" cy="360.50" r="1.45" fill="#9030c8"/>
<circle cx="148.12" cy="351.70" r="1.45" fill="#9030c8"/>
<circle cx="47.35" cy="379.00" r="1.45" fill="#f020d0"/>
<circle cx="48.92" cy="379.00" r="1.45" fill="#f020d0"/>
<circle cx="50.50" cy="379.00" r="1.45" fill="#f020d0"/>
<circle cx="53.65" cy="378.50" r="1.45" fill="#f020d0"/>
<circle cx="59.95" cy="377.20" r="1.45" fill="#f020d0"/>
<circle cx="72.54" cy="374.50" r="1.45" fill="#f020d0"/>
<circle cx="97.74" cy="369.00" r="1.45" fill="#f020d0"/>
<circle cx="148.12" cy="367.40" r="1.45" fill="#f020d0"/>
<circle cx="47.35" cy="379.10" r="1.45" fill="#000000"/>
<circle cx="48.92" cy="379.10" r="1.45" fill="#000000"/>
<circle cx="50.50" cy="379.10" r="1.45" fill="#000000"/>
<circle cx="53.65" cy="379.10" r="1.45" fill="#000000"/>
<circle cx="59.95" cy="379.00" r="1.45" fill="#000000"/>
<circle cx="72.54" cy="379.00" r="1.45" fill="#000000"/>
<circle cx="97.74" cy="378.40" r="1.45" fill="#000000"/>
<circle cx="148.12" cy="378.20" r="1.45" fill="#000000"/>
<text class="b" transform="translate(188.30 288.30) rotate(0.05)" font-size="8.6" font-weight="bold" text-anchor="start" >F</text>
<text class="b" transform="translate(272.88 290.60) rotate(0.05)" font-size="7.85" font-weight="bold" text-anchor="middle" >T98-G, 96 h post-seeding,</text>
<text class="b" transform="translate(272.88 300.00) rotate(0.05)" font-size="7.85" font-weight="bold" text-anchor="middle" >normoxia, 30 °C</text>
<path d="M212.42 309.78V389.83H333.35" fill="none" stroke="#000" stroke-width="1.1"/>
<text class="b" transform="translate(209.02 391.63) rotate(0.05)" font-size="5.75" font-weight="bold" text-anchor="end" style="stroke-width:0.02px">0</text>
<text class="b" transform="translate(209.02 378.29) rotate(0.05)" font-size="5.75" font-weight="bold" text-anchor="end" style="stroke-width:0.02px">1</text>
<text class="b" transform="translate(209.02 364.95) rotate(0.05)" font-size="5.75" font-weight="bold" text-anchor="end" style="stroke-width:0.02px">2</text>
<text class="b" transform="translate(209.02 351.61) rotate(0.05)" font-size="5.75" font-weight="bold" text-anchor="end" style="stroke-width:0.02px">3</text>
<text class="b" transform="translate(209.02 338.26) rotate(0.05)" font-size="5.75" font-weight="bold" text-anchor="end" style="stroke-width:0.02px">4</text>
<text class="b" transform="translate(209.02 324.92) rotate(0.05)" font-size="5.75" font-weight="bold" text-anchor="end" style="stroke-width:0.02px">5</text>
<text class="b" transform="translate(209.02 311.58) rotate(0.05)" font-size="5.75" font-weight="bold" text-anchor="end" style="stroke-width:0.02px">6</text>
<text class="b" transform="translate(212.42 398.83) rotate(0.05)" font-size="5.75" font-weight="bold" text-anchor="middle" style="stroke-width:0.02px">0</text>
<text class="b" transform="translate(252.73 398.83) rotate(0.05)" font-size="5.75" font-weight="bold" text-anchor="middle" style="stroke-width:0.02px">20,000</text>
<text class="b" transform="translate(293.04 398.83) rotate(0.05)" font-size="5.75" font-weight="bold" text-anchor="middle" style="stroke-width:0.02px">40,000</text>
<text class="b" transform="translate(333.35 398.83) rotate(0.05)" font-size="5.75" font-weight="bold" text-anchor="middle" style="stroke-width:0.02px">60,000</text>
<path d="M210.12 389.83H212.42 M210.12 376.49H212.42 M210.12 363.15H212.42 M210.12 349.81H212.42 M210.12 336.46H212.42 M210.12 323.12H212.42 M210.12 309.78H212.42 M212.42 389.83V392.13 M252.73 389.83V392.13 M293.04 389.83V392.13 M333.35 389.83V392.13" stroke="#000" stroke-width="1"/>
<text class="r" transform="translate(272.88 407.33) rotate(0.05)" font-size="6.7" font-weight="normal" text-anchor="middle" ># of cells seeded</text>
<text class="r" transform="translate(196.60 349.80) rotate(-89.9)" font-size="6.6" text-anchor="middle">Absorbance ratio,</text>
<text class="r" transform="translate(204.60 349.80) rotate(-89.9)" font-size="6.5" text-anchor="middle">570 nm / 600 nm</text>
<polyline points="212.42,378.20 213.99,378.20 215.57,378.20 218.72,378.20 225.02,378.10 237.61,377.80 262.81,377.20 313.19,376.20" fill="none" stroke="#7a7a7a" stroke-width="1.3"/>
<polyline points="212.42,378.00 213.99,378.00 215.57,378.00 218.72,378.00 225.02,377.30 237.61,376.00 262.81,374.00 313.19,370.50" fill="none" stroke="#f020d0" stroke-width="1.1" stroke-opacity="0.36"/>
<polyline points="212.42,378.00 213.99,378.00 215.57,378.00 218.72,378.00 225.02,376.50 237.61,374.20 262.81,369.70 313.19,363.80" fill="none" stroke="#9030c8" stroke-width="1.1" stroke-opacity="0.36"/>
<polyline points="212.42,378.00 213.99,378.00 215.57,378.00 218.72,377.90 225.02,375.70 237.61,371.70 262.81,363.80 313.19,355.10" fill="none" stroke="#3024f0" stroke-width="1.1" stroke-opacity="0.36"/>
<polyline points="212.42,378.00 213.99,378.00 215.57,378.00 218.72,377.80 225.02,374.50 237.61,369.10 262.81,359.00 313.19,347.80" fill="none" stroke="#00f000" stroke-width="1.1" stroke-opacity="0.36"/>
<polyline points="212.42,378.00 213.99,378.00 215.57,378.00 218.72,377.70 225.02,374.00 237.61,367.20 262.81,355.10 313.19,342.30" fill="none" stroke="#b0b000" stroke-width="1.1" stroke-opacity="0.36"/>
<polyline points="212.42,378.00 213.99,378.00 215.57,378.00 218.72,377.60 225.02,373.60 237.61,365.70 262.81,351.60 313.19,338.90" fill="none" stroke="#ff8020" stroke-width="1.1" stroke-opacity="0.36"/>
<polyline points="212.42,378.00 213.99,378.00 215.57,378.00 218.72,377.50 225.02,373.10 237.61,364.20 262.81,349.20 313.19,335.80" fill="none" stroke="#ff0000" stroke-width="1.1" stroke-opacity="0.36"/>
<polyline points="212.42,378.00 213.99,378.00 215.57,378.00 218.72,377.50 225.02,372.80 237.61,363.80 262.81,347.00 313.19,332.90" fill="none" stroke="#606060" stroke-width="1.1" stroke-opacity="0.36"/>
<path d="M262.81 345.00V349.00M261.91 345.00H263.71M261.91 349.00H263.71" stroke="#606060" stroke-width="0.7" stroke-opacity="0.55" fill="none"/>
<circle cx="212.42" cy="378.00" r="1.45" fill="#606060"/>
<circle cx="213.99" cy="378.00" r="1.45" fill="#606060"/>
<circle cx="215.57" cy="378.00" r="1.45" fill="#606060"/>
<circle cx="218.72" cy="377.50" r="1.45" fill="#606060"/>
<circle cx="225.02" cy="372.80" r="1.45" fill="#606060"/>
<circle cx="237.61" cy="363.80" r="1.45" fill="#606060"/>
<circle cx="262.81" cy="347.00" r="1.45" fill="#606060"/>
<circle cx="313.19" cy="332.90" r="1.45" fill="#606060"/>
<circle cx="212.42" cy="378.00" r="1.45" fill="#ff0000"/>
<circle cx="213.99" cy="378.00" r="1.45" fill="#ff0000"/>
<circle cx="215.57" cy="378.00" r="1.45" fill="#ff0000"/>
<circle cx="218.72" cy="377.50" r="1.45" fill="#ff0000"/>
<circle cx="225.02" cy="373.10" r="1.45" fill="#ff0000"/>
<circle cx="237.61" cy="364.20" r="1.45" fill="#ff0000"/>
<circle cx="262.81" cy="349.20" r="1.45" fill="#ff0000"/>
<circle cx="313.19" cy="335.80" r="1.45" fill="#ff0000"/>
<circle cx="212.42" cy="378.00" r="1.45" fill="#ff8020"/>
<circle cx="213.99" cy="378.00" r="1.45" fill="#ff8020"/>
<circle cx="215.57" cy="378.00" r="1.45" fill="#ff8020"/>
<circle cx="218.72" cy="377.60" r="1.45" fill="#ff8020"/>
<circle cx="225.02" cy="373.60" r="1.45" fill="#ff8020"/>
<circle cx="237.61" cy="365.70" r="1.45" fill="#ff8020"/>
<circle cx="262.81" cy="351.60" r="1.45" fill="#ff8020"/>
<circle cx="313.19" cy="338.90" r="1.45" fill="#ff8020"/>
<circle cx="212.42" cy="378.00" r="1.45" fill="#b0b000"/>
<circle cx="213.99" cy="378.00" r="1.45" fill="#b0b000"/>
<circle cx="215.57" cy="378.00" r="1.45" fill="#b0b000"/>
<circle cx="218.72" cy="377.70" r="1.45" fill="#b0b000"/>
<circle cx="225.02" cy="374.00" r="1.45" fill="#b0b000"/>
<circle cx="237.61" cy="367.20" r="1.45" fill="#b0b000"/>
<circle cx="262.81" cy="355.10" r="1.45" fill="#b0b000"/>
<circle cx="313.19" cy="342.30" r="1.45" fill="#b0b000"/>
<circle cx="212.42" cy="378.00" r="1.45" fill="#00f000"/>
<circle cx="213.99" cy="378.00" r="1.45" fill="#00f000"/>
<circle cx="215.57" cy="378.00" r="1.45" fill="#00f000"/>
<circle cx="218.72" cy="377.80" r="1.45" fill="#00f000"/>
<circle cx="225.02" cy="374.50" r="1.45" fill="#00f000"/>
<circle cx="237.61" cy="369.10" r="1.45" fill="#00f000"/>
<circle cx="262.81" cy="359.00" r="1.45" fill="#00f000"/>
<circle cx="313.19" cy="347.80" r="1.45" fill="#00f000"/>
<circle cx="212.42" cy="378.00" r="1.45" fill="#3024f0"/>
<circle cx="213.99" cy="378.00" r="1.45" fill="#3024f0"/>
<circle cx="215.57" cy="378.00" r="1.45" fill="#3024f0"/>
<circle cx="218.72" cy="377.90" r="1.45" fill="#3024f0"/>
<circle cx="225.02" cy="375.70" r="1.45" fill="#3024f0"/>
<circle cx="237.61" cy="371.70" r="1.45" fill="#3024f0"/>
<circle cx="262.81" cy="363.80" r="1.45" fill="#3024f0"/>
<circle cx="313.19" cy="355.10" r="1.45" fill="#3024f0"/>
<circle cx="212.42" cy="378.00" r="1.45" fill="#9030c8"/>
<circle cx="213.99" cy="378.00" r="1.45" fill="#9030c8"/>
<circle cx="215.57" cy="378.00" r="1.45" fill="#9030c8"/>
<circle cx="218.72" cy="378.00" r="1.45" fill="#9030c8"/>
<circle cx="225.02" cy="376.50" r="1.45" fill="#9030c8"/>
<circle cx="237.61" cy="374.20" r="1.45" fill="#9030c8"/>
<circle cx="262.81" cy="369.70" r="1.45" fill="#9030c8"/>
<circle cx="313.19" cy="363.80" r="1.45" fill="#9030c8"/>
<circle cx="212.42" cy="378.00" r="1.45" fill="#f020d0"/>
<circle cx="213.99" cy="378.00" r="1.45" fill="#f020d0"/>
<circle cx="215.57" cy="378.00" r="1.45" fill="#f020d0"/>
<circle cx="218.72" cy="378.00" r="1.45" fill="#f020d0"/>
<circle cx="225.02" cy="377.30" r="1.45" fill="#f020d0"/>
<circle cx="237.61" cy="376.00" r="1.45" fill="#f020d0"/>
<circle cx="262.81" cy="374.00" r="1.45" fill="#f020d0"/>
<circle cx="313.19" cy="370.50" r="1.45" fill="#f020d0"/>
<circle cx="212.42" cy="378.20" r="1.45" fill="#000000"/>
<circle cx="213.99" cy="378.20" r="1.45" fill="#000000"/>
<circle cx="215.57" cy="378.20" r="1.45" fill="#000000"/>
<circle cx="218.72" cy="378.20" r="1.45" fill="#000000"/>
<circle cx="225.02" cy="378.10" r="1.45" fill="#000000"/>
<circle cx="237.61" cy="377.80" r="1.45" fill="#000000"/>
<circle cx="262.81" cy="377.20" r="1.45" fill="#000000"/>
<circle cx="313.19" cy="376.20" r="1.45" fill="#000000"/>
<text class="r" transform="translate(350.90 304.00) rotate(0.05)" font-size="6.65" font-weight="normal" text-anchor="start" >Assay duration:</text>
<path d="M352.0 314.89H360.2" stroke="#000000" stroke-width="1.2" stroke-opacity="0.4"/>
<circle cx="356.1" cy="314.89" r="1.45" fill="#000000"/>
<text class="r" transform="translate(365.20 317.19) rotate(0.05)" font-size="6.5" font-weight="normal" text-anchor="start" >0 min</text>
<path d="M352.0 324.09H360.2" stroke="#f020d0" stroke-width="1.2" stroke-opacity="0.4"/>
<circle cx="356.1" cy="324.09" r="1.45" fill="#f020d0"/>
<text class="r" transform="translate(365.20 326.39) rotate(0.05)" font-size="6.5" font-weight="normal" text-anchor="start" >15 min</text>
<path d="M352.0 333.29H360.2" stroke="#9030c8" stroke-width="1.2" stroke-opacity="0.4"/>
<circle cx="356.1" cy="333.29" r="1.45" fill="#9030c8"/>
<text class="r" transform="translate(365.20 335.59) rotate(0.05)" font-size="6.5" font-weight="normal" text-anchor="start" >30 min</text>
<path d="M352.0 342.49H360.2" stroke="#3024f0" stroke-width="1.2" stroke-opacity="0.4"/>
<circle cx="356.1" cy="342.49" r="1.45" fill="#3024f0"/>
<text class="r" transform="translate(365.20 344.79) rotate(0.05)" font-size="6.5" font-weight="normal" text-anchor="start" >45 min</text>
<path d="M352.0 351.69H360.2" stroke="#00f000" stroke-width="1.2" stroke-opacity="0.4"/>
<circle cx="356.1" cy="351.69" r="1.45" fill="#00f000"/>
<text class="r" transform="translate(365.20 353.99) rotate(0.05)" font-size="6.5" font-weight="normal" text-anchor="start" >60 min</text>
<path d="M352.0 360.89H360.2" stroke="#b0b000" stroke-width="1.2" stroke-opacity="0.4"/>
<circle cx="356.1" cy="360.89" r="1.45" fill="#b0b000"/>
<text class="r" transform="translate(365.20 363.19) rotate(0.05)" font-size="6.5" font-weight="normal" text-anchor="start" >75 min</text>
<path d="M352.0 370.09H360.2" stroke="#ff8020" stroke-width="1.2" stroke-opacity="0.4"/>
<circle cx="356.1" cy="370.09" r="1.45" fill="#ff8020"/>
<text class="r" transform="translate(365.20 372.39) rotate(0.05)" font-size="6.5" font-weight="normal" text-anchor="start" >90 min</text>
<path d="M352.0 379.29H360.2" stroke="#ff0000" stroke-width="1.2" stroke-opacity="0.4"/>
<circle cx="356.1" cy="379.29" r="1.45" fill="#ff0000"/>
<text class="r" transform="translate(365.20 381.59) rotate(0.05)" font-size="6.5" font-weight="normal" text-anchor="start" >105 min</text>
<path d="M352.0 388.49H360.2" stroke="#606060" stroke-width="1.2" stroke-opacity="0.4"/>
<circle cx="356.1" cy="388.49" r="1.45" fill="#606060"/>
<text class="r" transform="translate(365.20 390.79) rotate(0.05)" font-size="6.5" font-weight="normal" text-anchor="start" >120 min</text>
<text class="b" transform="translate(9.00 425.80) rotate(0.05)" font-size="8.6" font-weight="bold" text-anchor="start" >G</text>
<text class="b" transform="translate(108.27 427.80) rotate(0.05)" font-size="7.85" font-weight="bold" text-anchor="middle" >T98-G, 96 h post-seeding,</text>
<text class="b" transform="translate(108.27 437.20) rotate(0.05)" font-size="7.85" font-weight="bold" text-anchor="middle" >hypoxia, 30 °C</text>
<path d="M47.35 447.19V527.24H168.28" fill="none" stroke="#000" stroke-width="1.1"/>
<text class="b" transform="translate(43.95 529.04) rotate(0.05)" font-size="5.75" font-weight="bold" text-anchor="end" style="stroke-width:0.02px">0</text>
<text class="b" transform="translate(43.95 502.36) rotate(0.05)" font-size="5.75" font-weight="bold" text-anchor="end" style="stroke-width:0.02px">5,000</text>
<text class="b" transform="translate(43.95 475.67) rotate(0.05)" font-size="5.75" font-weight="bold" text-anchor="end" style="stroke-width:0.02px">10,000</text>
<text class="b" transform="translate(43.95 448.99) rotate(0.05)" font-size="5.75" font-weight="bold" text-anchor="end" style="stroke-width:0.02px">15,000</text>
<text class="b" transform="translate(47.35 536.24) rotate(0.05)" font-size="5.75" font-weight="bold" text-anchor="middle" style="stroke-width:0.02px">0</text>
<text class="b" transform="translate(87.66 536.24) rotate(0.05)" font-size="5.75" font-weight="bold" text-anchor="middle" style="stroke-width:0.02px">20,000</text>
<text class="b" transform="translate(127.97 536.24) rotate(0.05)" font-size="5.75" font-weight="bold" text-anchor="middle" style="stroke-width:0.02px">40,000</text>
<text class="b" transform="translate(168.28 536.24) rotate(0.05)" font-size="5.75" font-weight="bold" text-anchor="middle" style="stroke-width:0.02px">60,000</text>
<path d="M45.05 527.24H47.35 M45.05 500.56H47.35 M45.05 473.87H47.35 M45.05 447.19H47.35 M47.35 527.24V529.54 M87.66 527.24V529.54 M127.97 527.24V529.54 M168.28 527.24V529.54" stroke="#000" stroke-width="1"/>
<text class="r" transform="translate(107.81 544.74) rotate(0.05)" font-size="6.7" font-weight="normal" text-anchor="middle" ># of cells seeded</text>
<text class="r" transform="translate(16.00 487.22) rotate(-89.9)" font-size="6.6" text-anchor="middle">Fluorescence intensity</text>
<text class="r" transform="translate(24.40 487.22) rotate(-89.9)" font-size="6.5" text-anchor="middle">ex. 540(20) nm, em. 590(20) nm</text>
<polyline points="47.35,516.30 48.92,516.30 50.50,516.30 53.65,516.20 59.95,516.00 72.54,515.60 97.74,515.30 148.12,515.60" fill="none" stroke="#787878" stroke-width="1.3"/>
<polyline points="47.35,516.00 48.92,515.70 50.50,515.20 53.65,514.50 59.95,511.80 72.54,508.20 97.74,505.90 148.12,504.30" fill="none" stroke="#f020d0" stroke-width="1.1" stroke-opacity="0.36"/>
<polyline points="47.35,516.00 48.92,515.50 50.50,514.50 53.65,513.00 59.95,507.20 72.54,500.90 97.74,498.10 148.12,492.70" fill="none" stroke="#9030c8" stroke-width="1.1" stroke-opacity="0.36"/>
<polyline points="47.35,516.00 48.92,515.30 50.50,514.00 53.65,511.00 59.95,502.00 72.54,491.20 97.74,488.10 148.12,486.60" fill="none" stroke="#3024f0" stroke-width="1.1" stroke-opacity="0.36"/>
<polyline points="47.35,516.00 48.92,515.00 50.50,513.00 53.65,508.50 59.95,496.00 72.54,483.60 97.74,478.50 148.12,480.40" fill="none" stroke="#00f000" stroke-width="1.1" stroke-opacity="0.36"/>
<polyline points="47.35,516.00 48.92,514.80 50.50,512.50 53.65,506.00 59.95,491.50 72.54,476.20 97.74,470.10 148.12,475.20" fill="none" stroke="#b0b000" stroke-width="1.1" stroke-opacity="0.36"/>
<polyline points="47.35,516.00 48.92,514.50 50.50,511.80 53.65,504.00 59.95,487.50 72.54,470.80 97.74,463.60 148.12,471.60" fill="none" stroke="#ff8020" stroke-width="1.1" stroke-opacity="0.36"/>
<polyline points="47.35,516.00 48.92,514.00 50.50,511.00 53.65,501.80 59.95,484.50 72.54,467.30 97.74,459.00 148.12,467.70" fill="none" stroke="#ff0000" stroke-width="1.1" stroke-opacity="0.36"/>
<polyline points="47.35,516.00 48.92,514.00 50.50,510.50 53.65,501.00 59.95,483.00 72.54,465.40 97.74,456.90 148.12,465.40" fill="none" stroke="#606060" stroke-width="1.1" stroke-opacity="0.36"/>
<path d="M148.12 460.40V470.40M147.22 460.40H149.03M147.22 470.40H149.03" stroke="#606060" stroke-width="0.7" stroke-opacity="0.55" fill="none"/>
<path d="M148.12 463.70V471.70M147.22 463.70H149.03M147.22 471.70H149.03" stroke="#ff0000" stroke-width="0.7" stroke-opacity="0.55" fill="none"/>
<path d="M148.12 473.20V477.20M147.22 473.20H149.03M147.22 477.20H149.03" stroke="#b0b000" stroke-width="0.7" stroke-opacity="0.55" fill="none"/>
<path d="M148.12 477.90V482.90M147.22 477.90H149.03M147.22 482.90H149.03" stroke="#00f000" stroke-width="0.7" stroke-opacity="0.55" fill="none"/>
<path d="M148.12 483.60V489.60M147.22 483.60H149.03M147.22 489.60H149.03" stroke="#3024f0" stroke-width="0.7" stroke-opacity="0.55" fill="none"/>
<path d="M148.12 489.20V496.20M147.22 489.20H149.03M147.22 496.20H149.03" stroke="#9030c8" stroke-width="0.7" stroke-opacity="0.55" fill="none"/>
<path d="M72.54 463.40V467.40M71.64 463.40H73.44M71.64 467.40H73.44" stroke="#606060" stroke-width="0.7" stroke-opacity="0.55" fill="none"/>
<circle cx="47.35" cy="516.00" r="1.45" fill="#606060"/>
<circle cx="48.92" cy="514.00" r="1.45" fill="#606060"/>
<circle cx="50.50" cy="510.50" r="1.45" fill="#606060"/>
<circle cx="53.65" cy="501.00" r="1.45" fill="#606060"/>
<circle cx="59.95" cy="483.00" r="1.45" fill="#606060"/>
<circle cx="72.54" cy="465.40" r="1.45" fill="#606060"/>
<circle cx="97.74" cy="456.90" r="1.45" fill="#606060"/>
<circle cx="148.12" cy="465.40" r="1.45" fill="#606060"/>
<circle cx="47.35" cy="516.00" r="1.45" fill="#ff0000"/>
<circle cx="48.92" cy="514.00" r="1.45" fill="#ff0000"/>
<circle cx="50.50" cy="511.00" r="1.45" fill="#ff0000"/>
<circle cx="53.65" cy="501.80" r="1.45" fill="#ff0000"/>
<circle cx="59.95" cy="484.50" r="1.45" fill="#ff0000"/>
<circle cx="72.54" cy="467.30" r="1.45" fill="#ff0000"/>
<circle cx="97.74" cy="459.00" r="1.45" fill="#ff0000"/>
<circle cx="148.12" cy="467.70" r="1.45" fill="#ff0000"/>
<circle cx="47.35" cy="516.00" r="1.45" fill="#ff8020"/>
<circle cx="48.92" cy="514.50" r="1.45" fill="#ff8020"/>
<circle cx="50.50" cy="511.80" r="1.45" fill="#ff8020"/>
<circle cx="53.65" cy="504.00" r="1.45" fill="#ff8020"/>
<circle cx="59.95" cy="487.50" r="1.45" fill="#ff8020"/>
<circle cx="72.54" cy="470.80" r="1.45" fill="#ff8020"/>
<circle cx="97.74" cy="463.60" r="1.45" fill="#ff8020"/>
<circle cx="148.12" cy="471.60" r="1.45" fill="#ff8020"/>
<circle cx="47.35" cy="516.00" r="1.45" fill="#b0b000"/>
<circle cx="48.92" cy="514.80" r="1.45" fill="#b0b000"/>
<circle cx="50.50" cy="512.50" r="1.45" fill="#b0b000"/>
<circle cx="53.65" cy="506.00" r="1.45" fill="#b0b000"/>
<circle cx="59.95" cy="491.50" r="1.45" fill="#b0b000"/>
<circle cx="72.54" cy="476.20" r="1.45" fill="#b0b000"/>
<circle cx="97.74" cy="470.10" r="1.45" fill="#b0b000"/>
<circle cx="148.12" cy="475.20" r="1.45" fill="#b0b000"/>
<circle cx="47.35" cy="516.00" r="1.45" fill="#00f000"/>
<circle cx="48.92" cy="515.00" r="1.45" fill="#00f000"/>
<circle cx="50.50" cy="513.00" r="1.45" fill="#00f000"/>
<circle cx="53.65" cy="508.50" r="1.45" fill="#00f000"/>
<circle cx="59.95" cy="496.00" r="1.45" fill="#00f000"/>
<circle cx="72.54" cy="483.60" r="1.45" fill="#00f000"/>
<circle cx="97.74" cy="478.50" r="1.45" fill="#00f000"/>
<circle cx="148.12" cy="480.40" r="1.45" fill="#00f000"/>
<circle cx="47.35" cy="516.00" r="1.45" fill="#3024f0"/>
<circle cx="48.92" cy="515.30" r="1.45" fill="#3024f0"/>
<circle cx="50.50" cy="514.00" r="1.45" fill="#3024f0"/>
<circle cx="53.65" cy="511.00" r="1.45" fill="#3024f0"/>
<circle cx="59.95" cy="502.00" r="1.45" fill="#3024f0"/>
<circle cx="72.54" cy="491.20" r="1.45" fill="#3024f0"/>
<circle cx="97.74" cy="488.10" r="1.45" fill="#3024f0"/>
<circle cx="148.12" cy="486.60" r="1.45" fill="#3024f0"/>
<circle cx="47.35" cy="516.00" r="1.45" fill="#9030c8"/>
<circle cx="48.92" cy="515.50" r="1.45" fill="#9030c8"/>
<circle cx="50.50" cy="514.50" r="1.45" fill="#9030c8"/>
<circle cx="53.65" cy="513.00" r="1.45" fill="#9030c8"/>
<circle cx="59.95" cy="507.20" r="1.45" fill="#9030c8"/>
<circle cx="72.54" cy="500.90" r="1.45" fill="#9030c8"/>
<circle cx="97.74" cy="498.10" r="1.45" fill="#9030c8"/>
<circle cx="148.12" cy="492.70" r="1.45" fill="#9030c8"/>
<circle cx="47.35" cy="516.00" r="1.45" fill="#f020d0"/>
<circle cx="48.92" cy="515.70" r="1.45" fill="#f020d0"/>
<circle cx="50.50" cy="515.20" r="1.45" fill="#f020d0"/>
<circle cx="53.65" cy="514.50" r="1.45" fill="#f020d0"/>
<circle cx="59.95" cy="511.80" r="1.45" fill="#f020d0"/>
<circle cx="72.54" cy="508.20" r="1.45" fill="#f020d0"/>
<circle cx="97.74" cy="505.90" r="1.45" fill="#f020d0"/>
<circle cx="148.12" cy="504.30" r="1.45" fill="#f020d0"/>
<circle cx="47.35" cy="516.30" r="1.45" fill="#000000"/>
<circle cx="48.92" cy="516.30" r="1.45" fill="#000000"/>
<circle cx="50.50" cy="516.30" r="1.45" fill="#000000"/>
<circle cx="53.65" cy="516.20" r="1.45" fill="#000000"/>
<circle cx="59.95" cy="516.00" r="1.45" fill="#000000"/>
<circle cx="72.54" cy="515.60" r="1.45" fill="#000000"/>
<circle cx="97.74" cy="515.30" r="1.45" fill="#000000"/>
<circle cx="148.12" cy="515.60" r="1.45" fill="#000000"/>
<text class="b" transform="translate(188.30 425.80) rotate(0.05)" font-size="8.6" font-weight="bold" text-anchor="start" >H</text>
<text class="b" transform="translate(272.88 427.80) rotate(0.05)" font-size="7.85" font-weight="bold" text-anchor="middle" >T98-G, 96 h post-seeding,</text>
<text class="b" transform="translate(272.88 437.20) rotate(0.05)" font-size="7.85" font-weight="bold" text-anchor="middle" >hypoxia, 30 °C</text>
<path d="M212.42 447.19V527.24H333.35" fill="none" stroke="#000" stroke-width="1.1"/>
<text class="b" transform="translate(209.02 529.04) rotate(0.05)" font-size="5.75" font-weight="bold" text-anchor="end" style="stroke-width:0.02px">0</text>
<text class="b" transform="translate(209.02 515.70) rotate(0.05)" font-size="5.75" font-weight="bold" text-anchor="end" style="stroke-width:0.02px">1</text>
<text class="b" transform="translate(209.02 502.36) rotate(0.05)" font-size="5.75" font-weight="bold" text-anchor="end" style="stroke-width:0.02px">2</text>
<text class="b" transform="translate(209.02 489.02) rotate(0.05)" font-size="5.75" font-weight="bold" text-anchor="end" style="stroke-width:0.02px">3</text>
<text class="b" transform="translate(209.02 475.67) rotate(0.05)" font-size="5.75" font-weight="bold" text-anchor="end" style="stroke-width:0.02px">4</text>
<text class="b" transform="translate(209.02 462.33) rotate(0.05)" font-size="5.75" font-weight="bold" text-anchor="end" style="stroke-width:0.02px">5</text>
<text class="b" transform="translate(209.02 448.99) rotate(0.05)" font-size="5.75" font-weight="bold" text-anchor="end" style="stroke-width:0.02px">6</text>
<text class="b" transform="translate(212.42 536.24) rotate(0.05)" font-size="5.75" font-weight="bold" text-anchor="middle" style="stroke-width:0.02px">0</text>
<text class="b" transform="translate(252.73 536.24) rotate(0.05)" font-size="5.75" font-weight="bold" text-anchor="middle" style="stroke-width:0.02px">20,000</text>
<text class="b" transform="translate(293.04 536.24) rotate(0.05)" font-size="5.75" font-weight="bold" text-anchor="middle" style="stroke-width:0.02px">40,000</text>
<text class="b" transform="translate(333.35 536.24) rotate(0.05)" font-size="5.75" font-weight="bold" text-anchor="middle" style="stroke-width:0.02px">60,000</text>
<path d="M210.12 527.24H212.42 M210.12 513.90H212.42 M210.12 500.56H212.42 M210.12 487.22H212.42 M210.12 473.87H212.42 M210.12 460.53H212.42 M210.12 447.19H212.42 M212.42 527.24V529.54 M252.73 527.24V529.54 M293.04 527.24V529.54 M333.35 527.24V529.54" stroke="#000" stroke-width="1"/>
<text class="r" transform="translate(272.88 544.74) rotate(0.05)" font-size="6.7" font-weight="normal" text-anchor="middle" ># of cells seeded</text>
<text class="r" transform="translate(196.60 487.22) rotate(-89.9)" font-size="6.6" text-anchor="middle">Absorbance ratio,</text>
<text class="r" transform="translate(204.60 487.22) rotate(-89.9)" font-size="6.5" text-anchor="middle">570 nm / 600 nm</text>
<polyline points="212.42,515.30 213.99,515.30 215.57,515.30 218.72,515.30 225.02,515.10 237.61,514.90 262.81,514.70 313.19,513.30" fill="none" stroke="#7a7a7a" stroke-width="1.3"/>
<polyline points="212.42,515.30 213.99,515.20 215.57,515.00 218.72,514.50 225.02,513.70 237.61,511.90 262.81,511.20 313.19,510.00" fill="none" stroke="#f020d0" stroke-width="1.1" stroke-opacity="0.36"/>
<polyline points="212.42,515.30 213.99,515.10 215.57,514.70 218.72,513.80 225.02,512.50 237.61,509.00 262.81,507.80 313.19,505.20" fill="none" stroke="#9030c8" stroke-width="1.1" stroke-opacity="0.36"/>
<polyline points="212.42,515.30 213.99,515.00 215.57,514.40 218.72,513.00 225.02,510.70 237.61,505.10 262.81,500.90 313.19,501.20" fill="none" stroke="#3024f0" stroke-width="1.1" stroke-opacity="0.36"/>
<polyline points="212.42,515.30 213.99,514.90 215.57,514.10 218.72,512.30 225.02,508.10 237.61,500.00 262.81,491.80 313.19,496.60" fill="none" stroke="#00f000" stroke-width="1.1" stroke-opacity="0.36"/>
<polyline points="212.42,515.30 213.99,514.80 215.57,513.80 218.72,511.50 225.02,505.60 237.61,494.20 262.81,481.60 313.19,491.80" fill="none" stroke="#b0b000" stroke-width="1.1" stroke-opacity="0.36"/>
<polyline points="212.42,515.30 213.99,514.70 215.57,513.50 218.72,510.80 225.02,503.60 237.61,488.30 262.81,472.20 313.19,487.10" fill="none" stroke="#ff8020" stroke-width="1.1" stroke-opacity="0.36"/>
<polyline points="212.42,515.30 213.99,514.60 215.57,513.20 218.72,510.00 225.02,501.10 237.61,483.40 262.81,464.80 313.19,483.20" fill="none" stroke="#ff0000" stroke-width="1.1" stroke-opacity="0.36"/>
<polyline points="212.42,515.30 213.99,514.50 215.57,513.00 218.72,509.80 225.02,500.20 237.61,479.70 262.81,458.80 313.19,479.40" fill="none" stroke="#606060" stroke-width="1.1" stroke-opacity="0.36"/>
<path d="M237.61 478.20V481.20M236.71 478.20H238.51M236.71 481.20H238.51" stroke="#606060" stroke-width="0.7" stroke-opacity="0.55" fill="none"/>
<path d="M262.81 455.80V461.80M261.91 455.80H263.71M261.91 461.80H263.71" stroke="#606060" stroke-width="0.7" stroke-opacity="0.55" fill="none"/>
<path d="M313.19 470.40V488.40M312.30 470.40H314.09M312.30 488.40H314.09" stroke="#606060" stroke-width="0.7" stroke-opacity="0.55" fill="none"/>
<path d="M313.19 475.20V491.20M312.30 475.20H314.09M312.30 491.20H314.09" stroke="#ff0000" stroke-width="0.7" stroke-opacity="0.55" fill="none"/>
<path d="M313.19 484.10V490.10M312.30 484.10H314.09M312.30 490.10H314.09" stroke="#ff8020" stroke-width="0.7" stroke-opacity="0.55" fill="none"/>
<circle cx="212.42" cy="515.30" r="1.45" fill="#606060"/>
<circle cx="213.99" cy="514.50" r="1.45" fill="#606060"/>
<circle cx="215.57" cy="513.00" r="1.45" fill="#606060"/>
<circle cx="218.72" cy="509.80" r="1.45" fill="#606060"/>
<circle cx="225.02" cy="500.20" r="1.45" fill="#606060"/>
<circle cx="237.61" cy="479.70" r="1.45" fill="#606060"/>
<circle cx="262.81" cy="458.80" r="1.45" fill="#606060"/>
<circle cx="313.19" cy="479.40" r="1.45" fill="#606060"/>
<circle cx="212.42" cy="515.30" r="1.45" fill="#ff0000"/>
<circle cx="213.99" cy="514.60" r="1.45" fill="#ff0000"/>
<circle cx="215.57" cy="513.20" r="1.45" fill="#ff0000"/>
<circle cx="218.72" cy="510.00" r="1.45" fill="#ff0000"/>
<circle cx="225.02" cy="501.10" r="1.45" fill="#ff0000"/>
<circle cx="237.61" cy="483.40" r="1.45" fill="#ff0000"/>
<circle cx="262.81" cy="464.80" r="1.45" fill="#ff0000"/>
<circle cx="313.19" cy="483.20" r="1.45" fill="#ff0000"/>
<circle cx="212.42" cy="515.30" r="1.45" fill="#ff8020"/>
<circle cx="213.99" cy="514.70" r="1.45" fill="#ff8020"/>
<circle cx="215.57" cy="513.50" r="1.45" fill="#ff8020"/>
<circle cx="218.72" cy="510.80" r="1.45" fill="#ff8020"/>
<circle cx="225.02" cy="503.60" r="1.45" fill="#ff8020"/>
<circle cx="237.61" cy="488.30" r="1.45" fill="#ff8020"/>
<circle cx="262.81" cy="472.20" r="1.45" fill="#ff8020"/>
<circle cx="313.19" cy="487.10" r="1.45" fill="#ff8020"/>
<circle cx="212.42" cy="515.30" r="1.45" fill="#b0b000"/>
<circle cx="213.99" cy="514.80" r="1.45" fill="#b0b000"/>
<circle cx="215.57" cy="513.80" r="1.45" fill="#b0b000"/>
<circle cx="218.72" cy="511.50" r="1.45" fill="#b0b000"/>
<circle cx="225.02" cy="505.60" r="1.45" fill="#b0b000"/>
<circle cx="237.61" cy="494.20" r="1.45" fill="#b0b000"/>
<circle cx="262.81" cy="481.60" r="1.45" fill="#b0b000"/>
<circle cx="313.19" cy="491.80" r="1.45" fill="#b0b000"/>
<circle cx="212.42" cy="515.30" r="1.45" fill="#00f000"/>
<circle cx="213.99" cy="514.90" r="1.45" fill="#00f000"/>
<circle cx="215.57" cy="514.10" r="1.45" fill="#00f000"/>
<circle cx="218.72" cy="512.30" r="1.45" fill="#00f000"/>
<circle cx="225.02" cy="508.10" r="1.45" fill="#00f000"/>
<circle cx="237.61" cy="500.00" r="1.45" fill="#00f000"/>
<circle cx="262.81" cy="491.80" r="1.45" fill="#00f000"/>
<circle cx="313.19" cy="496.60" r="1.45" fill="#00f000"/>
<circle cx="212.42" cy="515.30" r="1.45" fill="#3024f0"/>
<circle cx="213.99" cy="515.00" r="1.45" fill="#3024f0"/>
<circle cx="215.57" cy="514.40" r="1.45" fill="#3024f0"/>
<circle cx="218.72" cy="513.00" r="1.45" fill="#3024f0"/>
<circle cx="225.02" cy="510.70" r="1.45" fill="#3024f0"/>
<circle cx="237.61" cy="505.10" r="1.45" fill="#3024f0"/>
<circle cx="262.81" cy="500.90" r="1.45" fill="#3024f0"/>
<circle cx="313.19" cy="501.20" r="1.45" fill="#3024f0"/>
<circle cx="212.42" cy="515.30" r="1.45" fill="#9030c8"/>
<circle cx="213.99" cy="515.10" r="1.45" fill="#9030c8"/>
<circle cx="215.57" cy="514.70" r="1.45" fill="#9030c8"/>
<circle cx="218.72" cy="513.80" r="1.45" fill="#9030c8"/>
<circle cx="225.02" cy="512.50" r="1.45" fill="#9030c8"/>
<circle cx="237.61" cy="509.00" r="1.45" fill="#9030c8"/>
<circle cx="262.81" cy="507.80" r="1.45" fill="#9030c8"/>
<circle cx="313.19" cy="505.20" r="1.45" fill="#9030c8"/>
<circle cx="212.42" cy="515.30" r="1.45" fill="#f020d0"/>
<circle cx="213.99" cy="515.20" r="1.45" fill="#f020d0"/>
<circle cx="215.57" cy="515.00" r="1.45" fill="#f020d0"/>
<circle cx="218.72" cy="514.50" r="1.45" fill="#f020d0"/>
<circle cx="225.02" cy="513.70" r="1.45" fill="#f020d0"/>
<circle cx="237.61" cy="511.90" r="1.45" fill="#f020d0"/>
<circle cx="262.81" cy="511.20" r="1.45" fill="#f020d0"/>
<circle cx="313.19" cy="510.00" r="1.45" fill="#f020d0"/>
<circle cx="212.42" cy="515.30" r="1.45" fill="#000000"/>
<circle cx="213.99" cy="515.30" r="1.45" fill="#000000"/>
<circle cx="215.57" cy="515.30" r="1.45" fill="#000000"/>
<circle cx="218.72" cy="515.30" r="1.45" fill="#000000"/>
<circle cx="225.02" cy="515.10" r="1.45" fill="#000000"/>
<circle cx="237.61" cy="514.90" r="1.45" fill="#000000"/>
<circle cx="262.81" cy="514.70" r="1.45" fill="#000000"/>
<circle cx="313.19" cy="513.30" r="1.45" fill="#000000"/>
<text class="r" transform="translate(350.90 440.80) rotate(0.05)" font-size="6.65" font-weight="normal" text-anchor="start" >Assay duration:</text>
<path d="M352.0 452.30H360.2" stroke="#000000" stroke-width="1.2" stroke-opacity="0.4"/>
<circle cx="356.1" cy="452.30" r="1.45" fill="#000000"/>
<text class="r" transform="translate(365.20 454.60) rotate(0.05)" font-size="6.5" font-weight="normal" text-anchor="start" >0 min</text>
<path d="M352.0 461.50H360.2" stroke="#f020d0" stroke-width="1.2" stroke-opacity="0.4"/>
<circle cx="356.1" cy="461.50" r="1.45" fill="#f020d0"/>
<text class="r" transform="translate(365.20 463.80) rotate(0.05)" font-size="6.5" font-weight="normal" text-anchor="start" >15 min</text>
<path d="M352.0 470.70H360.2" stroke="#9030c8" stroke-width="1.2" stroke-opacity="0.4"/>
<circle cx="356.1" cy="470.70" r="1.45" fill="#9030c8"/>
<text class="r" transform="translate(365.20 473.00) rotate(0.05)" font-size="6.5" font-weight="normal" text-anchor="start" >30 min</text>
<path d="M352.0 479.90H360.2" stroke="#3024f0" stroke-width="1.2" stroke-opacity="0.4"/>
<circle cx="356.1" cy="479.90" r="1.45" fill="#3024f0"/>
<text class="r" transform="translate(365.20 482.20) rotate(0.05)" font-size="6.5" font-weight="normal" text-anchor="start" >45 min</text>
<path d="M352.0 489.10H360.2" stroke="#00f000" stroke-width="1.2" stroke-opacity="0.4"/>
<circle cx="356.1" cy="489.10" r="1.45" fill="#00f000"/>
<text class="r" transform="translate(365.20 491.40) rotate(0.05)" font-size="6.5" font-weight="normal" text-anchor="start" >60 min</text>
<path d="M352.0 498.30H360.2" stroke="#b0b000" stroke-width="1.2" stroke-opacity="0.4"/>
<circle cx="356.1" cy="498.30" r="1.45" fill="#b0b000"/>
<text class="r" transform="translate(365.20 500.60) rotate(0.05)" font-size="6.5" font-weight="normal" text-anchor="start" >75 min</text>
<path d="M352.0 507.50H360.2" stroke="#ff8020" stroke-width="1.2" stroke-opacity="0.4"/>
<circle cx="356.1" cy="507.50" r="1.45" fill="#ff8020"/>
<text class="r" transform="translate(365.20 509.80) rotate(0.05)" font-size="6.5" font-weight="normal" text-anchor="start" >90 min</text>
<path d="M352.0 516.70H360.2" stroke="#ff0000" stroke-width="1.2" stroke-opacity="0.4"/>
<circle cx="356.1" cy="516.70" r="1.45" fill="#ff0000"/>
<text class="r" transform="translate(365.20 519.00) rotate(0.05)" font-size="6.5" font-weight="normal" text-anchor="start" >105 min</text>
<path d="M352.0 525.90H360.2" stroke="#606060" stroke-width="1.2" stroke-opacity="0.4"/>
<circle cx="356.1" cy="525.90" r="1.45" fill="#606060"/>
<text class="r" transform="translate(365.20 528.20) rotate(0.05)" font-size="6.5" font-weight="normal" text-anchor="start" >120 min</text>
</svg>
</body></html>
